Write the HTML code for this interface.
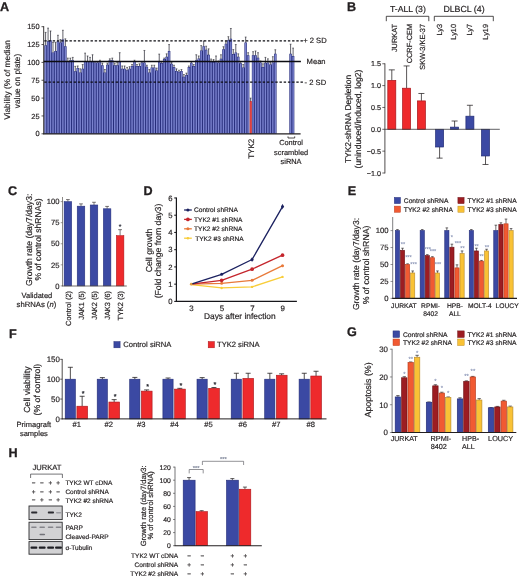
<!DOCTYPE html>
<html lang="en">
<head>
<meta charset="utf-8">
<title>TYK2 dependence in T-ALL - figure</title>
<style>
html,body{margin:0;padding:0;background:#fff;}
body{width:520px;height:577px;overflow:hidden;}
svg{display:block;font-family:"Liberation Sans",Arial,Helvetica,sans-serif;fill:#231f20;}
</style>
</head>
<body>
<svg width="520" height="577" viewBox="0 0 520 577" shape-rendering="auto" text-rendering="geometricPrecision">
<rect x="0" y="0" width="520" height="577" fill="#ffffff"/>
<text x="0" y="10.5" font-size="12.6" font-weight="bold" stroke="#231f20" stroke-width="0.3">A</text>
<line x1="45.6" y1="45.56" x2="45.6" y2="32.41" stroke="#2e2e38" stroke-width="0.75"/>
<line x1="44.7" y1="32.41" x2="46.5" y2="32.41" stroke="#23232b" stroke-width="0.6"/>
<line x1="48.07" y1="41.64" x2="48.07" y2="28.13" stroke="#2e2e38" stroke-width="0.75"/>
<line x1="47.17" y1="28.13" x2="48.97" y2="28.13" stroke="#23232b" stroke-width="0.6"/>
<line x1="50.54" y1="40.57" x2="50.54" y2="30.98" stroke="#2e2e38" stroke-width="0.75"/>
<line x1="49.64" y1="30.98" x2="51.44" y2="30.98" stroke="#23232b" stroke-width="0.6"/>
<line x1="53.01" y1="52.7" x2="53.01" y2="42.41" stroke="#2e2e38" stroke-width="0.75"/>
<line x1="52.11" y1="42.41" x2="53.91" y2="42.41" stroke="#23232b" stroke-width="0.6"/>
<line x1="55.48" y1="51.28" x2="55.48" y2="42.41" stroke="#2e2e38" stroke-width="0.75"/>
<line x1="54.58" y1="42.41" x2="56.38" y2="42.41" stroke="#23232b" stroke-width="0.6"/>
<line x1="57.95" y1="41.64" x2="57.95" y2="35.27" stroke="#2e2e38" stroke-width="0.75"/>
<line x1="57.05" y1="35.27" x2="58.85" y2="35.27" stroke="#23232b" stroke-width="0.6"/>
<line x1="60.42" y1="42.71" x2="60.42" y2="39.55" stroke="#2e2e38" stroke-width="0.75"/>
<line x1="59.52" y1="39.55" x2="61.32" y2="39.55" stroke="#23232b" stroke-width="0.6"/>
<line x1="62.89" y1="39.85" x2="62.89" y2="30.27" stroke="#2e2e38" stroke-width="0.75"/>
<line x1="61.99" y1="30.27" x2="63.79" y2="30.27" stroke="#23232b" stroke-width="0.6"/>
<line x1="65.36" y1="46.56" x2="65.36" y2="38.84" stroke="#2e2e38" stroke-width="0.75"/>
<line x1="64.46" y1="38.84" x2="66.26" y2="38.84" stroke="#23232b" stroke-width="0.6"/>
<line x1="67.83" y1="61.27" x2="67.83" y2="58.12" stroke="#2e2e38" stroke-width="0.75"/>
<line x1="66.93" y1="58.12" x2="68.73" y2="58.12" stroke="#23232b" stroke-width="0.6"/>
<line x1="70.3" y1="60.56" x2="70.3" y2="58.12" stroke="#2e2e38" stroke-width="0.75"/>
<line x1="69.4" y1="58.12" x2="71.2" y2="58.12" stroke="#23232b" stroke-width="0.6"/>
<line x1="72.77" y1="60.56" x2="72.77" y2="57.4" stroke="#2e2e38" stroke-width="0.75"/>
<line x1="71.87" y1="57.4" x2="73.67" y2="57.4" stroke="#23232b" stroke-width="0.6"/>
<line x1="75.24" y1="71.55" x2="75.24" y2="66.33" stroke="#2e2e38" stroke-width="0.75"/>
<line x1="74.34" y1="66.33" x2="76.14" y2="66.33" stroke="#23232b" stroke-width="0.6"/>
<line x1="77.71" y1="68.41" x2="77.71" y2="65.97" stroke="#2e2e38" stroke-width="0.75"/>
<line x1="76.81" y1="65.97" x2="78.61" y2="65.97" stroke="#23232b" stroke-width="0.6"/>
<line x1="80.18" y1="72.7" x2="80.18" y2="68.83" stroke="#2e2e38" stroke-width="0.75"/>
<line x1="79.28" y1="68.83" x2="81.08" y2="68.83" stroke="#23232b" stroke-width="0.6"/>
<line x1="82.65" y1="69.13" x2="82.65" y2="64.54" stroke="#2e2e38" stroke-width="0.75"/>
<line x1="81.75" y1="64.54" x2="83.55" y2="64.54" stroke="#23232b" stroke-width="0.6"/>
<line x1="85.12" y1="61.27" x2="85.12" y2="53.12" stroke="#2e2e38" stroke-width="0.75"/>
<line x1="84.22" y1="53.12" x2="86.02" y2="53.12" stroke="#23232b" stroke-width="0.6"/>
<line x1="87.59" y1="61.27" x2="87.59" y2="55.97" stroke="#2e2e38" stroke-width="0.75"/>
<line x1="86.69" y1="55.97" x2="88.49" y2="55.97" stroke="#23232b" stroke-width="0.6"/>
<line x1="90.06" y1="61.27" x2="90.06" y2="57.4" stroke="#2e2e38" stroke-width="0.75"/>
<line x1="89.16" y1="57.4" x2="90.96" y2="57.4" stroke="#23232b" stroke-width="0.6"/>
<line x1="92.53" y1="61.99" x2="92.53" y2="54.76" stroke="#2e2e38" stroke-width="0.75"/>
<line x1="91.63" y1="54.76" x2="93.43" y2="54.76" stroke="#23232b" stroke-width="0.6"/>
<line x1="95" y1="62.7" x2="95" y2="61.69" stroke="#2e2e38" stroke-width="0.75"/>
<line x1="94.1" y1="61.69" x2="95.9" y2="61.69" stroke="#23232b" stroke-width="0.6"/>
<line x1="97.47" y1="62.7" x2="97.47" y2="61.69" stroke="#2e2e38" stroke-width="0.75"/>
<line x1="96.57" y1="61.69" x2="98.37" y2="61.69" stroke="#23232b" stroke-width="0.6"/>
<line x1="99.94" y1="61.27" x2="99.94" y2="60.26" stroke="#2e2e38" stroke-width="0.75"/>
<line x1="99.04" y1="60.26" x2="100.84" y2="60.26" stroke="#23232b" stroke-width="0.6"/>
<line x1="102.41" y1="65.56" x2="102.41" y2="63.11" stroke="#2e2e38" stroke-width="0.75"/>
<line x1="101.51" y1="63.11" x2="103.31" y2="63.11" stroke="#23232b" stroke-width="0.6"/>
<line x1="104.88" y1="72.7" x2="104.88" y2="69.54" stroke="#2e2e38" stroke-width="0.75"/>
<line x1="103.98" y1="69.54" x2="105.78" y2="69.54" stroke="#23232b" stroke-width="0.6"/>
<line x1="107.35" y1="65.13" x2="107.35" y2="63.11" stroke="#2e2e38" stroke-width="0.75"/>
<line x1="106.45" y1="63.11" x2="108.25" y2="63.11" stroke="#23232b" stroke-width="0.6"/>
<line x1="109.82" y1="60.56" x2="109.82" y2="58.83" stroke="#2e2e38" stroke-width="0.75"/>
<line x1="108.92" y1="58.83" x2="110.72" y2="58.83" stroke="#23232b" stroke-width="0.6"/>
<line x1="112.29" y1="60.56" x2="112.29" y2="58.12" stroke="#2e2e38" stroke-width="0.75"/>
<line x1="111.39" y1="58.12" x2="113.19" y2="58.12" stroke="#23232b" stroke-width="0.6"/>
<line x1="114.76" y1="65.56" x2="114.76" y2="63.11" stroke="#2e2e38" stroke-width="0.75"/>
<line x1="113.86" y1="63.11" x2="115.66" y2="63.11" stroke="#23232b" stroke-width="0.6"/>
<line x1="117.23" y1="65.56" x2="117.23" y2="62.4" stroke="#2e2e38" stroke-width="0.75"/>
<line x1="116.33" y1="62.4" x2="118.13" y2="62.4" stroke="#23232b" stroke-width="0.6"/>
<line x1="119.7" y1="61.99" x2="119.7" y2="52.69" stroke="#2e2e38" stroke-width="0.75"/>
<line x1="118.8" y1="52.69" x2="120.6" y2="52.69" stroke="#23232b" stroke-width="0.6"/>
<line x1="122.17" y1="69.13" x2="122.17" y2="65.97" stroke="#2e2e38" stroke-width="0.75"/>
<line x1="121.27" y1="65.97" x2="123.07" y2="65.97" stroke="#23232b" stroke-width="0.6"/>
<line x1="124.64" y1="69.13" x2="124.64" y2="65.97" stroke="#2e2e38" stroke-width="0.75"/>
<line x1="123.74" y1="65.97" x2="125.54" y2="65.97" stroke="#23232b" stroke-width="0.6"/>
<line x1="127.11" y1="70.55" x2="127.11" y2="67.4" stroke="#2e2e38" stroke-width="0.75"/>
<line x1="126.21" y1="67.4" x2="128.01" y2="67.4" stroke="#23232b" stroke-width="0.6"/>
<line x1="129.58" y1="69.13" x2="129.58" y2="66.68" stroke="#2e2e38" stroke-width="0.75"/>
<line x1="128.68" y1="66.68" x2="130.48" y2="66.68" stroke="#23232b" stroke-width="0.6"/>
<line x1="132.05" y1="66.27" x2="132.05" y2="64.54" stroke="#2e2e38" stroke-width="0.75"/>
<line x1="131.15" y1="64.54" x2="132.95" y2="64.54" stroke="#23232b" stroke-width="0.6"/>
<line x1="134.52" y1="61.27" x2="134.52" y2="60.26" stroke="#2e2e38" stroke-width="0.75"/>
<line x1="133.62" y1="60.26" x2="135.42" y2="60.26" stroke="#23232b" stroke-width="0.6"/>
<line x1="136.99" y1="66.27" x2="136.99" y2="64.54" stroke="#2e2e38" stroke-width="0.75"/>
<line x1="136.09" y1="64.54" x2="137.89" y2="64.54" stroke="#23232b" stroke-width="0.6"/>
<line x1="139.46" y1="66.27" x2="139.46" y2="63.83" stroke="#2e2e38" stroke-width="0.75"/>
<line x1="138.56" y1="63.83" x2="140.36" y2="63.83" stroke="#23232b" stroke-width="0.6"/>
<line x1="141.93" y1="62.7" x2="141.93" y2="61.69" stroke="#2e2e38" stroke-width="0.75"/>
<line x1="141.03" y1="61.69" x2="142.83" y2="61.69" stroke="#23232b" stroke-width="0.6"/>
<line x1="144.4" y1="62.7" x2="144.4" y2="50.48" stroke="#2e2e38" stroke-width="0.75"/>
<line x1="143.5" y1="50.48" x2="145.3" y2="50.48" stroke="#23232b" stroke-width="0.6"/>
<line x1="146.87" y1="66.98" x2="146.87" y2="65.26" stroke="#2e2e38" stroke-width="0.75"/>
<line x1="145.97" y1="65.26" x2="147.77" y2="65.26" stroke="#23232b" stroke-width="0.6"/>
<line x1="149.34" y1="72.7" x2="149.34" y2="69.54" stroke="#2e2e38" stroke-width="0.75"/>
<line x1="148.44" y1="69.54" x2="150.24" y2="69.54" stroke="#23232b" stroke-width="0.6"/>
<line x1="151.81" y1="67.7" x2="151.81" y2="65.26" stroke="#2e2e38" stroke-width="0.75"/>
<line x1="150.91" y1="65.26" x2="152.71" y2="65.26" stroke="#23232b" stroke-width="0.6"/>
<line x1="154.28" y1="67.7" x2="154.28" y2="65.26" stroke="#2e2e38" stroke-width="0.75"/>
<line x1="153.38" y1="65.26" x2="155.18" y2="65.26" stroke="#23232b" stroke-width="0.6"/>
<line x1="156.75" y1="70.91" x2="156.75" y2="68.11" stroke="#2e2e38" stroke-width="0.75"/>
<line x1="155.85" y1="68.11" x2="157.65" y2="68.11" stroke="#23232b" stroke-width="0.6"/>
<line x1="159.22" y1="61.99" x2="159.22" y2="54.12" stroke="#2e2e38" stroke-width="0.75"/>
<line x1="158.32" y1="54.12" x2="160.12" y2="54.12" stroke="#23232b" stroke-width="0.6"/>
<line x1="161.69" y1="63.41" x2="161.69" y2="61.69" stroke="#2e2e38" stroke-width="0.75"/>
<line x1="160.79" y1="61.69" x2="162.59" y2="61.69" stroke="#23232b" stroke-width="0.6"/>
<line x1="164.16" y1="59.34" x2="164.16" y2="58.12" stroke="#2e2e38" stroke-width="0.75"/>
<line x1="163.26" y1="58.12" x2="165.06" y2="58.12" stroke="#23232b" stroke-width="0.6"/>
<line x1="166.63" y1="56.99" x2="166.63" y2="53.83" stroke="#2e2e38" stroke-width="0.75"/>
<line x1="165.73" y1="53.83" x2="167.53" y2="53.83" stroke="#23232b" stroke-width="0.6"/>
<line x1="169.1" y1="51.28" x2="169.1" y2="44.55" stroke="#2e2e38" stroke-width="0.75"/>
<line x1="168.2" y1="44.55" x2="170" y2="44.55" stroke="#23232b" stroke-width="0.6"/>
<line x1="171.57" y1="64.13" x2="171.57" y2="62.4" stroke="#2e2e38" stroke-width="0.75"/>
<line x1="170.67" y1="62.4" x2="172.47" y2="62.4" stroke="#23232b" stroke-width="0.6"/>
<line x1="174.04" y1="67.34" x2="174.04" y2="65.26" stroke="#2e2e38" stroke-width="0.75"/>
<line x1="173.14" y1="65.26" x2="174.94" y2="65.26" stroke="#23232b" stroke-width="0.6"/>
<line x1="176.51" y1="71.27" x2="176.51" y2="68.83" stroke="#2e2e38" stroke-width="0.75"/>
<line x1="175.61" y1="68.83" x2="177.41" y2="68.83" stroke="#23232b" stroke-width="0.6"/>
<line x1="178.98" y1="72.12" x2="178.98" y2="70.25" stroke="#2e2e38" stroke-width="0.75"/>
<line x1="178.08" y1="70.25" x2="179.88" y2="70.25" stroke="#23232b" stroke-width="0.6"/>
<line x1="181.45" y1="71.27" x2="181.45" y2="69.54" stroke="#2e2e38" stroke-width="0.75"/>
<line x1="180.55" y1="69.54" x2="182.35" y2="69.54" stroke="#23232b" stroke-width="0.6"/>
<line x1="183.92" y1="76.98" x2="183.92" y2="74.54" stroke="#2e2e38" stroke-width="0.75"/>
<line x1="183.02" y1="74.54" x2="184.82" y2="74.54" stroke="#23232b" stroke-width="0.6"/>
<line x1="186.39" y1="75.2" x2="186.39" y2="73.11" stroke="#2e2e38" stroke-width="0.75"/>
<line x1="185.49" y1="73.11" x2="187.29" y2="73.11" stroke="#23232b" stroke-width="0.6"/>
<line x1="188.86" y1="67.34" x2="188.86" y2="65.97" stroke="#2e2e38" stroke-width="0.75"/>
<line x1="187.96" y1="65.97" x2="189.76" y2="65.97" stroke="#23232b" stroke-width="0.6"/>
<line x1="191.33" y1="63.06" x2="191.33" y2="61.69" stroke="#2e2e38" stroke-width="0.75"/>
<line x1="190.43" y1="61.69" x2="192.23" y2="61.69" stroke="#23232b" stroke-width="0.6"/>
<line x1="193.8" y1="66.27" x2="193.8" y2="64.54" stroke="#2e2e38" stroke-width="0.75"/>
<line x1="192.9" y1="64.54" x2="194.7" y2="64.54" stroke="#23232b" stroke-width="0.6"/>
<line x1="196.27" y1="60.56" x2="196.27" y2="54.76" stroke="#2e2e38" stroke-width="0.75"/>
<line x1="195.37" y1="54.76" x2="197.17" y2="54.76" stroke="#23232b" stroke-width="0.6"/>
<line x1="198.74" y1="58.7" x2="198.74" y2="55.97" stroke="#2e2e38" stroke-width="0.75"/>
<line x1="197.84" y1="55.97" x2="199.64" y2="55.97" stroke="#23232b" stroke-width="0.6"/>
<line x1="201.21" y1="50.78" x2="201.21" y2="45.62" stroke="#2e2e38" stroke-width="0.75"/>
<line x1="200.31" y1="45.62" x2="202.11" y2="45.62" stroke="#23232b" stroke-width="0.6"/>
<line x1="203.68" y1="46.49" x2="203.68" y2="40.98" stroke="#2e2e38" stroke-width="0.75"/>
<line x1="202.78" y1="40.98" x2="204.58" y2="40.98" stroke="#23232b" stroke-width="0.6"/>
<line x1="206.15" y1="50.13" x2="206.15" y2="46.19" stroke="#2e2e38" stroke-width="0.75"/>
<line x1="205.25" y1="46.19" x2="207.05" y2="46.19" stroke="#23232b" stroke-width="0.6"/>
<line x1="208.62" y1="55.06" x2="208.62" y2="48.83" stroke="#2e2e38" stroke-width="0.75"/>
<line x1="207.72" y1="48.83" x2="209.52" y2="48.83" stroke="#23232b" stroke-width="0.6"/>
<line x1="211.09" y1="61.99" x2="211.09" y2="59.04" stroke="#2e2e38" stroke-width="0.75"/>
<line x1="210.19" y1="59.04" x2="211.99" y2="59.04" stroke="#23232b" stroke-width="0.6"/>
<line x1="213.56" y1="62.34" x2="213.56" y2="59.54" stroke="#2e2e38" stroke-width="0.75"/>
<line x1="212.66" y1="59.54" x2="214.46" y2="59.54" stroke="#23232b" stroke-width="0.6"/>
<line x1="216.03" y1="61.27" x2="216.03" y2="55.97" stroke="#2e2e38" stroke-width="0.75"/>
<line x1="215.13" y1="55.97" x2="216.93" y2="55.97" stroke="#23232b" stroke-width="0.6"/>
<line x1="218.5" y1="62.7" x2="218.5" y2="60.97" stroke="#2e2e38" stroke-width="0.75"/>
<line x1="217.6" y1="60.97" x2="219.4" y2="60.97" stroke="#23232b" stroke-width="0.6"/>
<line x1="220.97" y1="59.13" x2="220.97" y2="54.76" stroke="#2e2e38" stroke-width="0.75"/>
<line x1="220.07" y1="54.76" x2="221.87" y2="54.76" stroke="#23232b" stroke-width="0.6"/>
<line x1="223.44" y1="49.56" x2="223.44" y2="46.69" stroke="#2e2e38" stroke-width="0.75"/>
<line x1="222.54" y1="46.69" x2="224.34" y2="46.69" stroke="#23232b" stroke-width="0.6"/>
<line x1="225.91" y1="44.14" x2="225.91" y2="41.69" stroke="#2e2e38" stroke-width="0.75"/>
<line x1="225.01" y1="41.69" x2="226.81" y2="41.69" stroke="#23232b" stroke-width="0.6"/>
<line x1="228.38" y1="40.57" x2="228.38" y2="36.7" stroke="#2e2e38" stroke-width="0.75"/>
<line x1="227.48" y1="36.7" x2="229.28" y2="36.7" stroke="#23232b" stroke-width="0.6"/>
<line x1="230.85" y1="39.14" x2="230.85" y2="28.49" stroke="#2e2e38" stroke-width="0.75"/>
<line x1="229.95" y1="28.49" x2="231.75" y2="28.49" stroke="#23232b" stroke-width="0.6"/>
<line x1="233.32" y1="54.42" x2="233.32" y2="49.55" stroke="#2e2e38" stroke-width="0.75"/>
<line x1="232.42" y1="49.55" x2="234.22" y2="49.55" stroke="#23232b" stroke-width="0.6"/>
<line x1="235.79" y1="52.7" x2="235.79" y2="44.55" stroke="#2e2e38" stroke-width="0.75"/>
<line x1="234.89" y1="44.55" x2="236.69" y2="44.55" stroke="#23232b" stroke-width="0.6"/>
<line x1="238.26" y1="56.99" x2="238.26" y2="53.83" stroke="#2e2e38" stroke-width="0.75"/>
<line x1="237.36" y1="53.83" x2="239.16" y2="53.83" stroke="#23232b" stroke-width="0.6"/>
<line x1="240.73" y1="63.63" x2="240.73" y2="61.69" stroke="#2e2e38" stroke-width="0.75"/>
<line x1="239.83" y1="61.69" x2="241.63" y2="61.69" stroke="#23232b" stroke-width="0.6"/>
<line x1="243.2" y1="67.84" x2="243.2" y2="64.54" stroke="#2e2e38" stroke-width="0.75"/>
<line x1="242.3" y1="64.54" x2="244.1" y2="64.54" stroke="#23232b" stroke-width="0.6"/>
<line x1="245.67" y1="42.85" x2="245.67" y2="37.05" stroke="#2e2e38" stroke-width="0.75"/>
<line x1="244.77" y1="37.05" x2="246.57" y2="37.05" stroke="#23232b" stroke-width="0.6"/>
<line x1="248.14" y1="55.63" x2="248.14" y2="52.69" stroke="#2e2e38" stroke-width="0.75"/>
<line x1="247.24" y1="52.69" x2="249.04" y2="52.69" stroke="#23232b" stroke-width="0.6"/>
<line x1="250.61" y1="101.61" x2="250.61" y2="98.1" stroke="#2e2e38" stroke-width="0.75"/>
<line x1="249.71" y1="98.1" x2="251.51" y2="98.1" stroke="#23232b" stroke-width="0.6"/>
<line x1="253.08" y1="55.56" x2="253.08" y2="51.69" stroke="#2e2e38" stroke-width="0.75"/>
<line x1="252.18" y1="51.69" x2="253.98" y2="51.69" stroke="#23232b" stroke-width="0.6"/>
<line x1="255.55" y1="55.56" x2="255.55" y2="50.98" stroke="#2e2e38" stroke-width="0.75"/>
<line x1="254.65" y1="50.98" x2="256.45" y2="50.98" stroke="#23232b" stroke-width="0.6"/>
<line x1="258.02" y1="58.13" x2="258.02" y2="52.69" stroke="#2e2e38" stroke-width="0.75"/>
<line x1="257.12" y1="52.69" x2="258.92" y2="52.69" stroke="#23232b" stroke-width="0.6"/>
<line x1="260.49" y1="62.7" x2="260.49" y2="60.97" stroke="#2e2e38" stroke-width="0.75"/>
<line x1="259.59" y1="60.97" x2="261.39" y2="60.97" stroke="#23232b" stroke-width="0.6"/>
<line x1="262.96" y1="67.27" x2="262.96" y2="63.83" stroke="#2e2e38" stroke-width="0.75"/>
<line x1="262.06" y1="63.83" x2="263.86" y2="63.83" stroke="#23232b" stroke-width="0.6"/>
<line x1="265.43" y1="63.06" x2="265.43" y2="57.4" stroke="#2e2e38" stroke-width="0.75"/>
<line x1="264.53" y1="57.4" x2="266.33" y2="57.4" stroke="#23232b" stroke-width="0.6"/>
<line x1="267.9" y1="62.7" x2="267.9" y2="58.83" stroke="#2e2e38" stroke-width="0.75"/>
<line x1="267" y1="58.83" x2="268.8" y2="58.83" stroke="#23232b" stroke-width="0.6"/>
<line x1="270.37" y1="64.84" x2="270.37" y2="62.4" stroke="#2e2e38" stroke-width="0.75"/>
<line x1="269.47" y1="62.4" x2="271.27" y2="62.4" stroke="#23232b" stroke-width="0.6"/>
<line x1="272.84" y1="62.7" x2="272.84" y2="56.69" stroke="#2e2e38" stroke-width="0.75"/>
<line x1="271.94" y1="56.69" x2="273.74" y2="56.69" stroke="#23232b" stroke-width="0.6"/>
<line x1="275.31" y1="54.13" x2="275.31" y2="49.76" stroke="#2e2e38" stroke-width="0.75"/>
<line x1="274.41" y1="49.76" x2="276.21" y2="49.76" stroke="#23232b" stroke-width="0.6"/>
<line x1="290.6" y1="54.13" x2="290.6" y2="44.19" stroke="#2e2e38" stroke-width="0.75"/>
<line x1="289.7" y1="44.19" x2="291.5" y2="44.19" stroke="#23232b" stroke-width="0.6"/>
<line x1="293.1" y1="56.27" x2="293.1" y2="48.12" stroke="#2e2e38" stroke-width="0.75"/>
<line x1="292.2" y1="48.12" x2="294" y2="48.12" stroke="#23232b" stroke-width="0.6"/>
<path d="M44.37 133.8 V45.26 H46.84 V41.34 H49.3 V40.27 H51.77 V52.4 H54.25 V50.98 H56.72 V41.34 H59.19 V42.41 H61.66 V39.55 H64.12 V46.26 H66.59 V60.97 H69.06 V60.26 H71.54 V60.26 H74.01 V71.25 H76.48 V68.11 H78.95 V72.4 H81.42 V68.83 H83.89 V60.97 H86.36 V60.97 H88.83 V60.97 H91.3 V61.69 H93.77 V62.4 H96.23 V62.4 H98.7 V60.97 H101.17 V65.26 H103.64 V72.4 H106.11 V64.83 H108.59 V60.26 H111.05 V60.26 H113.53 V65.26 H116 V65.26 H118.47 V61.69 H120.94 V68.83 H123.41 V68.83 H125.88 V70.25 H128.35 V68.83 H130.82 V65.97 H133.29 V60.97 H135.76 V65.97 H138.23 V65.97 H140.7 V62.4 H143.17 V62.4 H145.64 V66.68 H148.11 V72.4 H150.58 V67.4 H153.05 V67.4 H155.52 V70.61 H157.99 V61.69 H160.46 V63.11 H162.93 V59.04 H165.4 V56.69 H167.87 V50.98 H170.34 V63.83 H172.81 V67.04 H175.28 V70.97 H177.75 V71.82 H180.22 V70.97 H182.69 V76.68 H185.16 V74.9 H187.63 V67.04 H190.1 V62.76 H192.57 V65.97 H195.04 V60.26 H197.51 V58.4 H199.98 V50.48 H202.45 V46.19 H204.92 V49.83 H207.39 V54.76 H209.86 V61.69 H212.33 V62.04 H214.8 V60.97 H217.27 V62.4 H219.74 V58.83 H222.21 V49.26 H224.68 V43.84 H227.15 V40.27 H229.62 V38.84 H232.09 V54.12 H234.56 V52.4 H237.03 V56.69 H239.5 V63.33 H241.97 V67.54 H244.44 V42.55 H246.91 V55.33 H249.38 V133.8 Z" fill="#262c7a"/>
<path d="M251.84 133.8 V55.26 H254.32 V55.26 H256.79 V57.83 H259.26 V62.4 H261.73 V66.97 H264.2 V62.76 H266.67 V62.4 H269.14 V64.54 H271.61 V62.4 H274.08 V53.83 H276.55 V133.8 Z" fill="#262c7a"/>
<path d="M289.37 133.8 V53.83 H291.84 V55.97 H294.34 V133.8 Z" fill="#262c7a"/>
<rect x="250.01" y="101.31" width="1.6" height="32.49" fill="#ee4a4a" stroke="#c02a2e" stroke-width="0.6"/>
<path d="M44.87 45.76 h1.47 V133.8 h-1.47 Z M47.34 41.84 h1.47 V133.8 h-1.47 Z M49.8 40.77 h1.47 V133.8 h-1.47 Z M52.28 52.9 h1.47 V133.8 h-1.47 Z M54.75 51.48 h1.47 V133.8 h-1.47 Z M57.22 41.84 h1.47 V133.8 h-1.47 Z M59.69 42.91 h1.47 V133.8 h-1.47 Z M62.16 40.05 h1.47 V133.8 h-1.47 Z M64.62 46.76 h1.47 V133.8 h-1.47 Z M67.09 61.47 h1.47 V133.8 h-1.47 Z M69.57 60.76 h1.47 V133.8 h-1.47 Z M72.04 60.76 h1.47 V133.8 h-1.47 Z M74.51 71.75 h1.47 V133.8 h-1.47 Z M76.98 68.61 h1.47 V133.8 h-1.47 Z M79.45 72.9 h1.47 V133.8 h-1.47 Z M81.92 69.33 h1.47 V133.8 h-1.47 Z M84.39 61.47 h1.47 V133.8 h-1.47 Z M86.86 61.47 h1.47 V133.8 h-1.47 Z M89.33 61.47 h1.47 V133.8 h-1.47 Z M91.8 62.19 h1.47 V133.8 h-1.47 Z M94.27 62.9 h1.47 V133.8 h-1.47 Z M96.73 62.9 h1.47 V133.8 h-1.47 Z M99.2 61.47 h1.47 V133.8 h-1.47 Z M101.67 65.76 h1.47 V133.8 h-1.47 Z M104.14 72.9 h1.47 V133.8 h-1.47 Z M106.62 65.33 h1.47 V133.8 h-1.47 Z M109.08 60.76 h1.47 V133.8 h-1.47 Z M111.56 60.76 h1.47 V133.8 h-1.47 Z M114.03 65.76 h1.47 V133.8 h-1.47 Z M116.5 65.76 h1.47 V133.8 h-1.47 Z M118.97 62.19 h1.47 V133.8 h-1.47 Z M121.44 69.33 h1.47 V133.8 h-1.47 Z M123.91 69.33 h1.47 V133.8 h-1.47 Z M126.38 70.75 h1.47 V133.8 h-1.47 Z M128.84 69.33 h1.47 V133.8 h-1.47 Z M131.31 66.47 h1.47 V133.8 h-1.47 Z M133.78 61.47 h1.47 V133.8 h-1.47 Z M136.25 66.47 h1.47 V133.8 h-1.47 Z M138.72 66.47 h1.47 V133.8 h-1.47 Z M141.19 62.9 h1.47 V133.8 h-1.47 Z M143.66 62.9 h1.47 V133.8 h-1.47 Z M146.13 67.18 h1.47 V133.8 h-1.47 Z M148.6 72.9 h1.47 V133.8 h-1.47 Z M151.07 67.9 h1.47 V133.8 h-1.47 Z M153.54 67.9 h1.47 V133.8 h-1.47 Z M156.01 71.11 h1.47 V133.8 h-1.47 Z M158.48 62.19 h1.47 V133.8 h-1.47 Z M160.95 63.61 h1.47 V133.8 h-1.47 Z M163.42 59.54 h1.47 V133.8 h-1.47 Z M165.9 57.19 h1.47 V133.8 h-1.47 Z M168.37 51.48 h1.47 V133.8 h-1.47 Z M170.84 64.33 h1.47 V133.8 h-1.47 Z M173.3 67.54 h1.47 V133.8 h-1.47 Z M175.77 71.47 h1.47 V133.8 h-1.47 Z M178.25 72.32 h1.47 V133.8 h-1.47 Z M180.72 71.47 h1.47 V133.8 h-1.47 Z M183.19 77.18 h1.47 V133.8 h-1.47 Z M185.66 75.4 h1.47 V133.8 h-1.47 Z M188.12 67.54 h1.47 V133.8 h-1.47 Z M190.59 63.26 h1.47 V133.8 h-1.47 Z M193.06 66.47 h1.47 V133.8 h-1.47 Z M195.53 60.76 h1.47 V133.8 h-1.47 Z M198 58.9 h1.47 V133.8 h-1.47 Z M200.47 50.98 h1.47 V133.8 h-1.47 Z M202.94 46.69 h1.47 V133.8 h-1.47 Z M205.41 50.33 h1.47 V133.8 h-1.47 Z M207.88 55.26 h1.47 V133.8 h-1.47 Z M210.35 62.19 h1.47 V133.8 h-1.47 Z M212.82 62.54 h1.47 V133.8 h-1.47 Z M215.29 61.47 h1.47 V133.8 h-1.47 Z M217.76 62.9 h1.47 V133.8 h-1.47 Z M220.23 59.33 h1.47 V133.8 h-1.47 Z M222.7 49.76 h1.47 V133.8 h-1.47 Z M225.17 44.34 h1.47 V133.8 h-1.47 Z M227.64 40.77 h1.47 V133.8 h-1.47 Z M230.12 39.34 h1.47 V133.8 h-1.47 Z M232.59 54.62 h1.47 V133.8 h-1.47 Z M235.06 52.9 h1.47 V133.8 h-1.47 Z M237.53 57.19 h1.47 V133.8 h-1.47 Z M240 63.83 h1.47 V133.8 h-1.47 Z M242.47 68.04 h1.47 V133.8 h-1.47 Z M244.94 43.05 h1.47 V133.8 h-1.47 Z M247.41 55.83 h1.47 V133.8 h-1.47 Z M252.34 55.76 h1.47 V133.8 h-1.47 Z M254.81 55.76 h1.47 V133.8 h-1.47 Z M257.29 58.33 h1.47 V133.8 h-1.47 Z M259.75 62.9 h1.47 V133.8 h-1.47 Z M262.23 67.47 h1.47 V133.8 h-1.47 Z M264.69 63.26 h1.47 V133.8 h-1.47 Z M267.17 62.9 h1.47 V133.8 h-1.47 Z M269.63 65.04 h1.47 V133.8 h-1.47 Z M272.11 62.9 h1.47 V133.8 h-1.47 Z M274.57 54.33 h1.47 V133.8 h-1.47 Z M289.87 54.33 h1.47 V133.8 h-1.47 Z M292.37 56.47 h1.47 V133.8 h-1.47 Z" fill="#7a82ce"/>
<line x1="43.7" y1="26.2" x2="43.7" y2="134.25" stroke="#231f20" stroke-width="0.9"/>
<line x1="41.5" y1="133.8" x2="43.7" y2="133.8" stroke="#231f20" stroke-width="0.77"/>
<text x="39.5" y="136.46" font-size="7.4" text-anchor="end" stroke="#231f20" stroke-width="0.18">0</text>
<line x1="41.5" y1="115.95" x2="43.7" y2="115.95" stroke="#231f20" stroke-width="0.77"/>
<text x="39.5" y="118.61" font-size="7.4" text-anchor="end" stroke="#231f20" stroke-width="0.18">25</text>
<line x1="41.5" y1="98.1" x2="43.7" y2="98.1" stroke="#231f20" stroke-width="0.77"/>
<text x="39.5" y="100.76" font-size="7.4" text-anchor="end" stroke="#231f20" stroke-width="0.18">50</text>
<line x1="41.5" y1="80.25" x2="43.7" y2="80.25" stroke="#231f20" stroke-width="0.77"/>
<text x="39.5" y="82.91" font-size="7.4" text-anchor="end" stroke="#231f20" stroke-width="0.18">75</text>
<line x1="41.5" y1="62.4" x2="43.7" y2="62.4" stroke="#231f20" stroke-width="0.77"/>
<text x="39.5" y="65.06" font-size="7.4" text-anchor="end" stroke="#231f20" stroke-width="0.18">100</text>
<line x1="41.5" y1="44.55" x2="43.7" y2="44.55" stroke="#231f20" stroke-width="0.77"/>
<text x="39.5" y="47.21" font-size="7.4" text-anchor="end" stroke="#231f20" stroke-width="0.18">125</text>
<line x1="41.5" y1="26.7" x2="43.7" y2="26.7" stroke="#231f20" stroke-width="0.77"/>
<text x="39.5" y="29.36" font-size="7.4" text-anchor="end" stroke="#231f20" stroke-width="0.18">150</text>
<line x1="43.25" y1="133.8" x2="300.6" y2="133.8" stroke="#231f20" stroke-width="1.2"/>
<line x1="43.7" y1="61.6" x2="300.9" y2="61.6" stroke="#0d0d12" stroke-width="1.5"/>
<line x1="44.3" y1="40.9" x2="304.6" y2="40.9" stroke="#0d0d12" stroke-width="1.25" stroke-dasharray="2.4 1.8"/>
<line x1="44.3" y1="82.2" x2="304.6" y2="82.2" stroke="#0d0d12" stroke-width="1.25" stroke-dasharray="2.4 1.8"/>
<text x="303.2" y="43.3" font-size="7.6" stroke="#231f20" stroke-width="0.18">+ 2 SD</text>
<text x="306.6" y="64" font-size="7.6" stroke="#231f20" stroke-width="0.18">Mean</text>
<text x="304.6" y="84.9" font-size="7.6" stroke="#231f20" stroke-width="0.18">- 2 SD</text>
<text x="9.9" y="80" font-size="8.3" text-anchor="middle" transform="rotate(-90 9.9 80)" stroke="#231f20" stroke-width="0.18">Viability (% of median</text>
<text x="20.4" y="81" font-size="8.3" text-anchor="middle" transform="rotate(-90 20.4 81)" stroke="#231f20" stroke-width="0.18">value on plate)</text>
<text x="253.9" y="138.8" font-size="8" text-anchor="end" transform="rotate(-90 253.9 138.8)" stroke="#231f20" stroke-width="0.18">TYK2</text>
<path d="M288 136.4 V138 H294.7 V136.4" fill="none" stroke="#231f20" stroke-width="0.8"/>
<text x="291.1" y="145.4" font-size="7.4" text-anchor="middle" stroke="#231f20" stroke-width="0.18">Control</text>
<text x="291.1" y="154.8" font-size="7.4" text-anchor="middle" stroke="#231f20" stroke-width="0.18">scrambled</text>
<text x="291.1" y="164.1" font-size="7.4" text-anchor="middle" stroke="#231f20" stroke-width="0.18">siRNA</text>
<text x="347" y="11.1" font-size="12.6" font-weight="bold" stroke="#231f20" stroke-width="0.3">B</text>
<text x="407.9" y="12.4" font-size="8.7" text-anchor="middle" stroke="#231f20" stroke-width="0.18">T-ALL (3)</text>
<text x="464" y="12.4" font-size="8.8" text-anchor="middle" stroke="#231f20" stroke-width="0.18">DLBCL (4)</text>
<path d="M386.3 21.2 V16.3 H428.8 V21.2" fill="none" stroke="#231f20" stroke-width="0.8"/>
<path d="M434.3 21.2 V16.3 H493.3 V21.2" fill="none" stroke="#231f20" stroke-width="0.8"/>
<line x1="384.9" y1="63.35" x2="384.9" y2="173.4" stroke="#231f20" stroke-width="0.8"/>
<line x1="382.3" y1="63.75" x2="384.9" y2="63.75" stroke="#231f20" stroke-width="0.68"/>
<text x="381" y="66.34" font-size="7.2" text-anchor="end" stroke="#231f20" stroke-width="0.18">1.5</text>
<line x1="382.3" y1="85.6" x2="384.9" y2="85.6" stroke="#231f20" stroke-width="0.68"/>
<text x="381" y="88.19" font-size="7.2" text-anchor="end" stroke="#231f20" stroke-width="0.18">1.0</text>
<line x1="382.3" y1="107.45" x2="384.9" y2="107.45" stroke="#231f20" stroke-width="0.68"/>
<text x="381" y="110.04" font-size="7.2" text-anchor="end" stroke="#231f20" stroke-width="0.18">0.5</text>
<line x1="382.3" y1="129.3" x2="384.9" y2="129.3" stroke="#231f20" stroke-width="0.68"/>
<text x="381" y="131.89" font-size="7.2" text-anchor="end" stroke="#231f20" stroke-width="0.18">0.0</text>
<line x1="382.3" y1="151.15" x2="384.9" y2="151.15" stroke="#231f20" stroke-width="0.68"/>
<text x="381" y="153.74" font-size="7.2" text-anchor="end" stroke="#231f20" stroke-width="0.18">−0.5</text>
<line x1="382.3" y1="173" x2="384.9" y2="173" stroke="#231f20" stroke-width="0.68"/>
<text x="381" y="175.59" font-size="7.2" text-anchor="end" stroke="#231f20" stroke-width="0.18">−1.0</text>
<line x1="391.8" y1="80.36" x2="391.8" y2="69.87" stroke="#231f20" stroke-width="0.75"/>
<line x1="388.8" y1="69.87" x2="394.8" y2="69.87" stroke="#231f20" stroke-width="0.75"/>
<rect x="387.8" y="80.36" width="8" height="48.94" fill="#ee2a2c" stroke="#a8141a" stroke-width="0.7"/>
<text x="396.8" y="23.9" font-size="7.4" text-anchor="end" transform="rotate(-90 396.8 23.9)" stroke="#231f20" stroke-width="0.18">JURKAT</text>
<line x1="406.6" y1="88.22" x2="406.6" y2="65.94" stroke="#231f20" stroke-width="0.75"/>
<line x1="403.6" y1="65.94" x2="409.6" y2="65.94" stroke="#231f20" stroke-width="0.75"/>
<rect x="402.6" y="88.22" width="8" height="41.08" fill="#ee2a2c" stroke="#a8141a" stroke-width="0.7"/>
<text x="411.6" y="23.9" font-size="7.4" text-anchor="end" transform="rotate(-90 411.6 23.9)" stroke="#231f20" stroke-width="0.18">CCRF-CEM</text>
<line x1="421.4" y1="100.9" x2="421.4" y2="93.47" stroke="#231f20" stroke-width="0.75"/>
<line x1="418.4" y1="93.47" x2="424.4" y2="93.47" stroke="#231f20" stroke-width="0.75"/>
<rect x="417.4" y="100.9" width="8" height="28.41" fill="#ee2a2c" stroke="#a8141a" stroke-width="0.7"/>
<text x="425.2" y="23.9" font-size="7.4" text-anchor="end" transform="rotate(-90 425.2 23.9)" stroke="#231f20" stroke-width="0.18">SKW-3/KE-37</text>
<line x1="439.6" y1="147" x2="439.6" y2="158.14" stroke="#231f20" stroke-width="0.75"/>
<line x1="436.6" y1="158.14" x2="442.6" y2="158.14" stroke="#231f20" stroke-width="0.75"/>
<rect x="435.6" y="129.3" width="8" height="17.7" fill="#3b49a3" stroke="#222b76" stroke-width="0.7"/>
<text x="442" y="23.9" font-size="7.4" text-anchor="end" transform="rotate(-90 442 23.9)" stroke="#231f20" stroke-width="0.18">Ly3</text>
<line x1="454.6" y1="127.12" x2="454.6" y2="121" stroke="#231f20" stroke-width="0.75"/>
<line x1="451.6" y1="121" x2="457.6" y2="121" stroke="#231f20" stroke-width="0.75"/>
<rect x="450.6" y="127.12" width="8" height="2.19" fill="#3b49a3" stroke="#222b76" stroke-width="0.7"/>
<text x="456.5" y="23.9" font-size="7.4" text-anchor="end" transform="rotate(-90 456.5 23.9)" stroke="#231f20" stroke-width="0.18">Ly10</text>
<line x1="469.9" y1="116.19" x2="469.9" y2="105.27" stroke="#231f20" stroke-width="0.75"/>
<line x1="466.9" y1="105.27" x2="472.9" y2="105.27" stroke="#231f20" stroke-width="0.75"/>
<rect x="465.9" y="116.19" width="8" height="13.11" fill="#3b49a3" stroke="#222b76" stroke-width="0.7"/>
<text x="472.5" y="23.9" font-size="7.4" text-anchor="end" transform="rotate(-90 472.5 23.9)" stroke="#231f20" stroke-width="0.18">Ly7</text>
<line x1="485.5" y1="155.96" x2="485.5" y2="164.48" stroke="#231f20" stroke-width="0.75"/>
<line x1="482.5" y1="164.48" x2="488.5" y2="164.48" stroke="#231f20" stroke-width="0.75"/>
<rect x="481.5" y="129.3" width="8" height="26.66" fill="#3b49a3" stroke="#222b76" stroke-width="0.7"/>
<text x="488.1" y="23.9" font-size="7.4" text-anchor="end" transform="rotate(-90 488.1 23.9)" stroke="#231f20" stroke-width="0.18">Ly19</text>
<line x1="384.9" y1="129.3" x2="499.8" y2="129.3" stroke="#3a3a3e" stroke-width="0.8"/>
<text x="351.4" y="119" font-size="8.45" text-anchor="middle" transform="rotate(-90 351.4 119)" stroke="#231f20" stroke-width="0.18">TYK2-shRNA Depletion</text>
<text x="361.1" y="119" font-size="8.6" text-anchor="middle" transform="rotate(-90 361.1 119)" stroke="#231f20" stroke-width="0.18">(uninduced/induced, log2)</text>
<text x="8" y="195.4" font-size="12.6" font-weight="bold" stroke="#231f20" stroke-width="0.3">C</text>
<line x1="67.9" y1="201.6" x2="67.9" y2="199.58" stroke="#231f20" stroke-width="0.6"/>
<line x1="66" y1="199.58" x2="69.8" y2="199.58" stroke="#231f20" stroke-width="0.6"/>
<rect x="64.1" y="201.6" width="7.6" height="84.3" fill="#3b49a3" stroke="#222b76" stroke-width="0.5"/>
<text x="70.5" y="291" font-size="7.4" text-anchor="end" transform="rotate(-90 70.5 291)" stroke="#231f20" stroke-width="0.18">Control (2)</text>
<line x1="81" y1="206.15" x2="81" y2="203.88" stroke="#231f20" stroke-width="0.6"/>
<line x1="79.1" y1="203.88" x2="82.9" y2="203.88" stroke="#231f20" stroke-width="0.6"/>
<rect x="77.2" y="206.15" width="7.6" height="79.75" fill="#3b49a3" stroke="#222b76" stroke-width="0.5"/>
<text x="83.6" y="291" font-size="7.4" text-anchor="end" transform="rotate(-90 83.6 291)" stroke="#231f20" stroke-width="0.18">JAK1 (5)</text>
<line x1="94" y1="204.97" x2="94" y2="202.27" stroke="#231f20" stroke-width="0.6"/>
<line x1="92.1" y1="202.27" x2="95.9" y2="202.27" stroke="#231f20" stroke-width="0.6"/>
<rect x="90.2" y="204.97" width="7.6" height="80.93" fill="#3b49a3" stroke="#222b76" stroke-width="0.5"/>
<text x="96.6" y="291" font-size="7.4" text-anchor="end" transform="rotate(-90 96.6 291)" stroke="#231f20" stroke-width="0.18">JAK2 (5)</text>
<line x1="107.1" y1="208.77" x2="107.1" y2="206.41" stroke="#231f20" stroke-width="0.6"/>
<line x1="105.2" y1="206.41" x2="109" y2="206.41" stroke="#231f20" stroke-width="0.6"/>
<rect x="103.3" y="208.77" width="7.6" height="77.13" fill="#3b49a3" stroke="#222b76" stroke-width="0.5"/>
<text x="109.7" y="291" font-size="7.4" text-anchor="end" transform="rotate(-90 109.7 291)" stroke="#231f20" stroke-width="0.18">JAK3 (6)</text>
<line x1="120.1" y1="235.57" x2="120.1" y2="229.67" stroke="#231f20" stroke-width="0.6"/>
<line x1="118.2" y1="229.67" x2="122" y2="229.67" stroke="#231f20" stroke-width="0.6"/>
<rect x="116.3" y="235.57" width="7.6" height="50.33" fill="#ee2a2c" stroke="#a8141a" stroke-width="0.5"/>
<text x="122.7" y="291" font-size="7.4" text-anchor="end" transform="rotate(-90 122.7 291)" stroke="#231f20" stroke-width="0.18">TYK2 (3)</text>
<text x="120.2" y="228.8" font-size="6.8" text-anchor="middle" fill="#2a2d3a" stroke="#2a2d3a" stroke-width="0.18">*</text>
<line x1="62.5" y1="197" x2="62.5" y2="286.22" stroke="#4e4842" stroke-width="0.65"/>
<line x1="60.7" y1="285.9" x2="62.5" y2="285.9" stroke="#4e4842" stroke-width="0.55"/>
<text x="59.4" y="288.64" font-size="7.6" text-anchor="end" stroke="#231f20" stroke-width="0.18">0</text>
<line x1="60.7" y1="264.82" x2="62.5" y2="264.82" stroke="#4e4842" stroke-width="0.55"/>
<text x="59.4" y="267.56" font-size="7.6" text-anchor="end" stroke="#231f20" stroke-width="0.18">25</text>
<line x1="60.7" y1="243.75" x2="62.5" y2="243.75" stroke="#4e4842" stroke-width="0.55"/>
<text x="59.4" y="246.49" font-size="7.6" text-anchor="end" stroke="#231f20" stroke-width="0.18">50</text>
<line x1="60.7" y1="222.67" x2="62.5" y2="222.67" stroke="#4e4842" stroke-width="0.55"/>
<text x="59.4" y="225.41" font-size="7.6" text-anchor="end" stroke="#231f20" stroke-width="0.18">75</text>
<line x1="60.7" y1="201.6" x2="62.5" y2="201.6" stroke="#4e4842" stroke-width="0.55"/>
<text x="59.4" y="204.34" font-size="7.6" text-anchor="end" stroke="#231f20" stroke-width="0.18">100</text>
<line x1="62.1" y1="286" x2="126.8" y2="286" stroke="#4e4842" stroke-width="0.8"/>
<text x="31.8" y="239.8" font-size="8.6" text-anchor="middle" transform="rotate(-90 31.8 239.8)" stroke="#231f20" stroke-width="0.18">Growth rate (day7/day3:</text>
<text x="41.5" y="239.4" font-size="8.6" text-anchor="middle" transform="rotate(-90 41.5 239.4)" stroke="#231f20" stroke-width="0.18">% of control shRNAs)</text>
<text x="36.9" y="298" font-size="7.5" text-anchor="middle" stroke="#231f20" stroke-width="0.18">Validated</text>
<text x="36.4" y="307.0" font-size="7.7" text-anchor="middle" stroke="#231f20" stroke-width="0.18">shRNAs (<tspan font-style="italic">n</tspan>)</text>
<text x="143.4" y="195.2" font-size="12.6" font-weight="bold" stroke="#231f20" stroke-width="0.3">D</text>
<line x1="176.4" y1="197.56" x2="176.4" y2="302" stroke="#17171b" stroke-width="1.2"/>
<line x1="174.2" y1="301.4" x2="176.4" y2="301.4" stroke="#17171b" stroke-width="1.02"/>
<text x="172.5" y="304.17" font-size="7.7" text-anchor="end" stroke="#231f20" stroke-width="0.18">0</text>
<line x1="174.2" y1="284.16" x2="176.4" y2="284.16" stroke="#17171b" stroke-width="1.02"/>
<text x="172.5" y="286.93" font-size="7.7" text-anchor="end" stroke="#231f20" stroke-width="0.18">1</text>
<line x1="174.2" y1="266.92" x2="176.4" y2="266.92" stroke="#17171b" stroke-width="1.02"/>
<text x="172.5" y="269.69" font-size="7.7" text-anchor="end" stroke="#231f20" stroke-width="0.18">2</text>
<line x1="174.2" y1="249.68" x2="176.4" y2="249.68" stroke="#17171b" stroke-width="1.02"/>
<text x="172.5" y="252.45" font-size="7.7" text-anchor="end" stroke="#231f20" stroke-width="0.18">3</text>
<line x1="174.2" y1="232.44" x2="176.4" y2="232.44" stroke="#17171b" stroke-width="1.02"/>
<text x="172.5" y="235.21" font-size="7.7" text-anchor="end" stroke="#231f20" stroke-width="0.18">4</text>
<line x1="174.2" y1="215.2" x2="176.4" y2="215.2" stroke="#17171b" stroke-width="1.02"/>
<text x="172.5" y="217.97" font-size="7.7" text-anchor="end" stroke="#231f20" stroke-width="0.18">5</text>
<line x1="174.2" y1="197.96" x2="176.4" y2="197.96" stroke="#17171b" stroke-width="1.02"/>
<text x="172.5" y="200.73" font-size="7.7" text-anchor="end" stroke="#231f20" stroke-width="0.18">6</text>
<line x1="175.8" y1="301.4" x2="296.9" y2="301.4" stroke="#17171b" stroke-width="1.25"/>
<text x="191.5" y="311.2" font-size="7.9" text-anchor="middle" stroke="#231f20" stroke-width="0.18">3</text>
<text x="221.94" y="311.2" font-size="7.9" text-anchor="middle" stroke="#231f20" stroke-width="0.18">5</text>
<text x="252.38" y="311.2" font-size="7.9" text-anchor="middle" stroke="#231f20" stroke-width="0.18">7</text>
<text x="282.82" y="311.2" font-size="7.9" text-anchor="middle" stroke="#231f20" stroke-width="0.18">9</text>
<text x="239.8" y="318.6" font-size="8.4" text-anchor="middle" stroke="#231f20" stroke-width="0.18">Days after infection</text>
<text x="152.2" y="250.5" font-size="8.7" text-anchor="middle" transform="rotate(-90 152.2 250.5)" stroke="#231f20" stroke-width="0.18">Cell growth</text>
<text x="160.9" y="251" font-size="8.7" text-anchor="middle" transform="rotate(-90 160.9 251)" stroke="#231f20" stroke-width="0.18">(Fold change from day3)</text>
<polyline points="191.2,284.68 221.64,287.95 252.08,286.92 282.52,276.92" fill="none" stroke="#f8cd3a" stroke-width="1.3" stroke-linejoin="round"/>
<circle cx="221.64" cy="287.95" r="1.2" fill="#f8cd3a"/>
<circle cx="252.08" cy="286.92" r="1.2" fill="#f8cd3a"/>
<circle cx="282.52" cy="276.92" r="1.2" fill="#f8cd3a"/>
<line x1="184.1" y1="238.2" x2="191.8" y2="238.2" stroke="#f8cd3a" stroke-width="1.3"/>
<circle cx="187.9" cy="238.2" r="1.2" fill="#f8cd3a"/>
<text x="195.2" y="240.6" font-size="6.6" stroke="#231f20" stroke-width="0.18">TYK2 #3 shRNA</text>
<polyline points="191.2,284.16 221.64,283.3 252.08,280.37 282.52,265.71" fill="none" stroke="#e8793a" stroke-width="1.3" stroke-linejoin="round"/>
<circle cx="221.64" cy="283.3" r="1.5" fill="#e8793a"/>
<circle cx="252.08" cy="280.37" r="1.5" fill="#e8793a"/>
<circle cx="282.52" cy="265.71" r="1.5" fill="#e8793a"/>
<line x1="184.1" y1="228.8" x2="191.8" y2="228.8" stroke="#e8793a" stroke-width="1.3"/>
<circle cx="187.9" cy="228.8" r="1.5" fill="#e8793a"/>
<text x="194" y="231.2" font-size="6.6" stroke="#231f20" stroke-width="0.18">TYK2 #2 shRNA</text>
<polyline points="191.2,284.16 221.64,280.37 252.08,269.16 282.52,255.2" fill="none" stroke="#c4252c" stroke-width="1.3" stroke-linejoin="round"/>
<circle cx="221.64" cy="280.37" r="1.85" fill="#c4252c"/>
<circle cx="252.08" cy="269.16" r="1.85" fill="#c4252c"/>
<circle cx="282.52" cy="255.2" r="1.85" fill="#c4252c"/>
<line x1="184.1" y1="219.4" x2="191.8" y2="219.4" stroke="#c4252c" stroke-width="1.3"/>
<circle cx="187.9" cy="219.4" r="1.85" fill="#c4252c"/>
<text x="194" y="221.8" font-size="6.6" stroke="#231f20" stroke-width="0.18">TYK2 #1 shRNA</text>
<polyline points="191.2,284.16 221.64,274.33 252.08,259.51 282.52,206.58" fill="none" stroke="#1b2160" stroke-width="1.3" stroke-linejoin="round"/>
<circle cx="221.64" cy="274.33" r="1.5" fill="#1b2160"/>
<circle cx="252.08" cy="259.51" r="1.5" fill="#1b2160"/>
<circle cx="282.52" cy="206.58" r="1.5" fill="#1b2160"/>
<line x1="184.1" y1="210" x2="191.8" y2="210" stroke="#1b2160" stroke-width="1.3"/>
<circle cx="187.9" cy="210" r="1.5" fill="#1b2160"/>
<text x="194" y="212.4" font-size="6.6" stroke="#231f20" stroke-width="0.18">Control shRNA</text>
<circle cx="191.2" cy="284.16" r="1.3" fill="#e0a040"/>
<line x1="282.52" y1="209.17" x2="282.52" y2="203.99" stroke="#1b2160" stroke-width="0.7"/>
<line x1="252.08" y1="261.75" x2="252.08" y2="257.44" stroke="#1b2160" stroke-width="0.7"/>
<text x="347.8" y="195.2" font-size="12.6" font-weight="bold" stroke="#231f20" stroke-width="0.3">E</text>
<rect x="394.3" y="197.4" width="6.2" height="6.2" fill="#3b49a3" stroke="#222b76" stroke-width="0.45"/>
<text x="403.8" y="202.91" font-size="6.7" stroke="#231f20" stroke-width="0.18">Control shRNA</text>
<rect x="457.9" y="197.4" width="6.2" height="6.2" fill="#9c1d22" stroke="#6a1014" stroke-width="0.45"/>
<text x="467.6" y="202.91" font-size="6.7" stroke="#231f20" stroke-width="0.18">TYK2 #1 shRNA</text>
<rect x="394.3" y="206.1" width="6.2" height="6.2" fill="#f15a32" stroke="#b83a1c" stroke-width="0.45"/>
<text x="403.8" y="211.61" font-size="6.7" stroke="#231f20" stroke-width="0.18">TYK2 #2 shRNA</text>
<rect x="457.9" y="206.1" width="6.2" height="6.2" fill="#f9c235" stroke="#b8892a" stroke-width="0.45"/>
<text x="467.6" y="211.61" font-size="6.7" stroke="#231f20" stroke-width="0.18">TYK2 #3 shRNA</text>
<line x1="397.44" y1="230.6" x2="397.44" y2="229.58" stroke="#231f20" stroke-width="0.65"/>
<line x1="396.14" y1="229.58" x2="398.74" y2="229.58" stroke="#231f20" stroke-width="0.65"/>
<rect x="395.35" y="230.6" width="4.18" height="67.8" fill="#3b49a3" stroke="#222b76" stroke-width="0.6"/>
<line x1="402.52" y1="250.26" x2="402.52" y2="248.23" stroke="#231f20" stroke-width="0.65"/>
<line x1="401.22" y1="248.23" x2="403.82" y2="248.23" stroke="#231f20" stroke-width="0.65"/>
<rect x="400.43" y="250.26" width="4.18" height="48.14" fill="#9c1d22" stroke="#6a1014" stroke-width="0.6"/>
<line x1="407.6" y1="264.5" x2="407.6" y2="263.82" stroke="#231f20" stroke-width="0.65"/>
<line x1="406.3" y1="263.82" x2="408.9" y2="263.82" stroke="#231f20" stroke-width="0.65"/>
<rect x="405.51" y="264.5" width="4.18" height="33.9" fill="#f15a32" stroke="#b83a1c" stroke-width="0.6"/>
<line x1="412.68" y1="272.97" x2="412.68" y2="270.94" stroke="#231f20" stroke-width="0.65"/>
<line x1="411.38" y1="270.94" x2="413.98" y2="270.94" stroke="#231f20" stroke-width="0.65"/>
<rect x="410.59" y="272.97" width="4.18" height="25.43" fill="#f9c235" stroke="#b8892a" stroke-width="0.6"/>
<line x1="422.24" y1="230.6" x2="422.24" y2="229.58" stroke="#231f20" stroke-width="0.65"/>
<line x1="420.94" y1="229.58" x2="423.54" y2="229.58" stroke="#231f20" stroke-width="0.65"/>
<rect x="420.15" y="230.6" width="4.18" height="67.8" fill="#3b49a3" stroke="#222b76" stroke-width="0.6"/>
<line x1="427.32" y1="255.69" x2="427.32" y2="254.67" stroke="#231f20" stroke-width="0.65"/>
<line x1="426.02" y1="254.67" x2="428.62" y2="254.67" stroke="#231f20" stroke-width="0.65"/>
<rect x="425.23" y="255.69" width="4.18" height="42.71" fill="#9c1d22" stroke="#6a1014" stroke-width="0.6"/>
<line x1="432.4" y1="257.72" x2="432.4" y2="256.7" stroke="#231f20" stroke-width="0.65"/>
<line x1="431.1" y1="256.7" x2="433.7" y2="256.7" stroke="#231f20" stroke-width="0.65"/>
<rect x="430.31" y="257.72" width="4.18" height="40.68" fill="#f15a32" stroke="#b83a1c" stroke-width="0.6"/>
<line x1="437.48" y1="272.97" x2="437.48" y2="270.94" stroke="#231f20" stroke-width="0.65"/>
<line x1="436.18" y1="270.94" x2="438.78" y2="270.94" stroke="#231f20" stroke-width="0.65"/>
<rect x="435.39" y="272.97" width="4.18" height="25.43" fill="#f9c235" stroke="#b8892a" stroke-width="0.6"/>
<line x1="446.84" y1="230.6" x2="446.84" y2="227.89" stroke="#231f20" stroke-width="0.65"/>
<line x1="445.54" y1="227.89" x2="448.14" y2="227.89" stroke="#231f20" stroke-width="0.65"/>
<rect x="444.75" y="230.6" width="4.18" height="67.8" fill="#3b49a3" stroke="#222b76" stroke-width="0.6"/>
<line x1="451.92" y1="247.21" x2="451.92" y2="244.16" stroke="#231f20" stroke-width="0.65"/>
<line x1="450.62" y1="244.16" x2="453.22" y2="244.16" stroke="#231f20" stroke-width="0.65"/>
<rect x="449.83" y="247.21" width="4.18" height="51.19" fill="#9c1d22" stroke="#6a1014" stroke-width="0.6"/>
<line x1="457" y1="267.89" x2="457" y2="264.84" stroke="#231f20" stroke-width="0.65"/>
<line x1="455.7" y1="264.84" x2="458.3" y2="264.84" stroke="#231f20" stroke-width="0.65"/>
<rect x="454.91" y="267.89" width="4.18" height="30.51" fill="#f15a32" stroke="#b83a1c" stroke-width="0.6"/>
<line x1="462.08" y1="253.65" x2="462.08" y2="250.94" stroke="#231f20" stroke-width="0.65"/>
<line x1="460.78" y1="250.94" x2="463.38" y2="250.94" stroke="#231f20" stroke-width="0.65"/>
<rect x="459.99" y="253.65" width="4.18" height="44.75" fill="#f9c235" stroke="#b8892a" stroke-width="0.6"/>
<line x1="471.34" y1="230.6" x2="471.34" y2="229.58" stroke="#231f20" stroke-width="0.65"/>
<line x1="470.04" y1="229.58" x2="472.64" y2="229.58" stroke="#231f20" stroke-width="0.65"/>
<rect x="469.25" y="230.6" width="4.18" height="67.8" fill="#3b49a3" stroke="#222b76" stroke-width="0.6"/>
<line x1="476.42" y1="250.94" x2="476.42" y2="248.23" stroke="#231f20" stroke-width="0.65"/>
<line x1="475.12" y1="248.23" x2="477.72" y2="248.23" stroke="#231f20" stroke-width="0.65"/>
<rect x="474.33" y="250.94" width="4.18" height="47.46" fill="#9c1d22" stroke="#6a1014" stroke-width="0.6"/>
<line x1="481.5" y1="261.11" x2="481.5" y2="260.43" stroke="#231f20" stroke-width="0.65"/>
<line x1="480.2" y1="260.43" x2="482.8" y2="260.43" stroke="#231f20" stroke-width="0.65"/>
<rect x="479.41" y="261.11" width="4.18" height="37.29" fill="#f15a32" stroke="#b83a1c" stroke-width="0.6"/>
<line x1="486.58" y1="250.94" x2="486.58" y2="249.24" stroke="#231f20" stroke-width="0.65"/>
<line x1="485.28" y1="249.24" x2="487.88" y2="249.24" stroke="#231f20" stroke-width="0.65"/>
<rect x="484.49" y="250.94" width="4.18" height="47.46" fill="#f9c235" stroke="#b8892a" stroke-width="0.6"/>
<line x1="495.84" y1="230.6" x2="495.84" y2="225.18" stroke="#231f20" stroke-width="0.65"/>
<line x1="494.54" y1="225.18" x2="497.14" y2="225.18" stroke="#231f20" stroke-width="0.65"/>
<rect x="493.75" y="230.6" width="4.18" height="67.8" fill="#3b49a3" stroke="#222b76" stroke-width="0.6"/>
<line x1="500.92" y1="224.5" x2="500.92" y2="222.8" stroke="#231f20" stroke-width="0.65"/>
<line x1="499.62" y1="222.8" x2="502.22" y2="222.8" stroke="#231f20" stroke-width="0.65"/>
<rect x="498.83" y="224.5" width="4.18" height="73.9" fill="#9c1d22" stroke="#6a1014" stroke-width="0.6"/>
<line x1="506" y1="223.82" x2="506" y2="219.07" stroke="#231f20" stroke-width="0.65"/>
<line x1="504.7" y1="219.07" x2="507.3" y2="219.07" stroke="#231f20" stroke-width="0.65"/>
<rect x="503.91" y="223.82" width="4.18" height="74.58" fill="#f15a32" stroke="#b83a1c" stroke-width="0.6"/>
<line x1="511.08" y1="230.6" x2="511.08" y2="228.57" stroke="#231f20" stroke-width="0.65"/>
<line x1="509.78" y1="228.57" x2="512.38" y2="228.57" stroke="#231f20" stroke-width="0.65"/>
<rect x="508.99" y="230.6" width="4.18" height="67.8" fill="#f9c235" stroke="#b8892a" stroke-width="0.6"/>
<line x1="392.7" y1="217" x2="392.7" y2="298.72" stroke="#3a3a3e" stroke-width="0.65"/>
<line x1="390.5" y1="298.4" x2="392.7" y2="298.4" stroke="#3a3a3e" stroke-width="0.55"/>
<text x="388.5" y="301.17" font-size="7.7" text-anchor="end" stroke="#231f20" stroke-width="0.18">0</text>
<line x1="390.5" y1="281.45" x2="392.7" y2="281.45" stroke="#3a3a3e" stroke-width="0.55"/>
<text x="388.5" y="284.22" font-size="7.7" text-anchor="end" stroke="#231f20" stroke-width="0.18">25</text>
<line x1="390.5" y1="264.5" x2="392.7" y2="264.5" stroke="#3a3a3e" stroke-width="0.55"/>
<text x="388.5" y="267.27" font-size="7.7" text-anchor="end" stroke="#231f20" stroke-width="0.18">50</text>
<line x1="390.5" y1="247.55" x2="392.7" y2="247.55" stroke="#3a3a3e" stroke-width="0.55"/>
<text x="388.5" y="250.32" font-size="7.7" text-anchor="end" stroke="#231f20" stroke-width="0.18">75</text>
<line x1="390.5" y1="230.6" x2="392.7" y2="230.6" stroke="#3a3a3e" stroke-width="0.55"/>
<text x="388.5" y="233.37" font-size="7.7" text-anchor="end" stroke="#231f20" stroke-width="0.18">100</text>
<line x1="392.25" y1="298.4" x2="517" y2="298.4" stroke="#231f20" stroke-width="1.2"/>
<text x="403" y="245.76" font-size="5.6" text-anchor="middle" fill="#8792b4" stroke="#8792b4" stroke-width="0.12">**</text>
<text x="408.4" y="258.64" font-size="5.6" text-anchor="middle" fill="#8792b4" stroke="#8792b4" stroke-width="0.12">***</text>
<text x="413.6" y="266.1" font-size="5.6" text-anchor="middle" fill="#8792b4" stroke="#8792b4" stroke-width="0.12">***</text>
<text x="427.6" y="250.51" font-size="5.6" text-anchor="middle" fill="#8792b4" stroke="#8792b4" stroke-width="0.12">***</text>
<text x="433" y="252.54" font-size="5.6" text-anchor="middle" fill="#8792b4" stroke="#8792b4" stroke-width="0.12">***</text>
<text x="438" y="266.1" font-size="5.6" text-anchor="middle" fill="#8792b4" stroke="#8792b4" stroke-width="0.12">***</text>
<text x="451.8" y="238.98" font-size="5.6" text-anchor="middle" fill="#8792b4" stroke="#8792b4" stroke-width="0.12">*</text>
<text x="457.9" y="245.08" font-size="5.6" text-anchor="middle" fill="#8792b4" stroke="#8792b4" stroke-width="0.12">***</text>
<text x="462.4" y="250.17" font-size="5.6" text-anchor="middle" fill="#8792b4" stroke="#8792b4" stroke-width="0.12">**</text>
<text x="476.6" y="248.13" font-size="5.6" text-anchor="middle" fill="#8792b4" stroke="#8792b4" stroke-width="0.12">**</text>
<text x="481.6" y="257.96" font-size="5.6" text-anchor="middle" fill="#8792b4" stroke="#8792b4" stroke-width="0.12">**</text>
<text x="486.9" y="248.81" font-size="5.6" text-anchor="middle" fill="#8792b4" stroke="#8792b4" stroke-width="0.12">**</text>
<text x="403.8" y="307.9" font-size="6.7" text-anchor="middle" stroke="#231f20" stroke-width="0.18">JURKAT</text>
<text x="430.6" y="307.9" font-size="6.7" text-anchor="middle" stroke="#231f20" stroke-width="0.18">RPMI-</text>
<text x="430.6" y="315.8" font-size="6.7" text-anchor="middle" stroke="#231f20" stroke-width="0.18">8402</text>
<text x="454.9" y="307.9" font-size="6.7" text-anchor="middle" stroke="#231f20" stroke-width="0.18">HPB-</text>
<text x="454.9" y="315.8" font-size="6.7" text-anchor="middle" stroke="#231f20" stroke-width="0.18">ALL</text>
<text x="479.8" y="307.9" font-size="6.7" text-anchor="middle" stroke="#231f20" stroke-width="0.18">MOLT-4</text>
<text x="507.1" y="307.9" font-size="6.7" text-anchor="middle" stroke="#231f20" stroke-width="0.18">LOUCY</text>
<text x="358.8" y="264" font-size="8.6" text-anchor="middle" transform="rotate(-90 358.8 264)" stroke="#231f20" stroke-width="0.18">Growth rate (day7/day3:</text>
<text x="369" y="265" font-size="8.7" text-anchor="middle" transform="rotate(-90 369 265)" stroke="#231f20" stroke-width="0.18">% of control shRNA)</text>
<text x="9" y="338" font-size="12.6" font-weight="bold" stroke="#231f20" stroke-width="0.3">F</text>
<rect x="113.9" y="341.6" width="6.2" height="6.2" fill="#3b49a3" stroke="#222b76" stroke-width="0.5"/>
<text x="123.3" y="347.4" font-size="7.6" stroke="#231f20" stroke-width="0.18">Control siRNA</text>
<rect x="208.2" y="341.6" width="6.2" height="6.2" fill="#ee2a2c" stroke="#a8141a" stroke-width="0.5"/>
<text x="217" y="347.4" font-size="7.6" stroke="#231f20" stroke-width="0.18">TYK2 siRNA</text>
<line x1="70.35" y1="379.2" x2="70.35" y2="367.29" stroke="#231f20" stroke-width="0.8"/>
<line x1="67.85" y1="367.29" x2="72.85" y2="367.29" stroke="#231f20" stroke-width="0.8"/>
<rect x="65.2" y="379.2" width="10.2" height="39.7" fill="#3b49a3" stroke="#222b76" stroke-width="0.6"/>
<line x1="82.15" y1="406.2" x2="82.15" y2="396.27" stroke="#231f20" stroke-width="0.8"/>
<line x1="79.65" y1="396.27" x2="84.65" y2="396.27" stroke="#231f20" stroke-width="0.8"/>
<rect x="76.9" y="406.2" width="10.7" height="12.7" fill="#ee2a2c" stroke="#a8141a" stroke-width="0.6"/>
<text x="83.15" y="395.67" font-size="7.2" text-anchor="middle" fill="#1f2028" stroke="#1f2028" stroke-width="0.25">*</text>
<text x="76.8" y="427" font-size="7.6" text-anchor="middle" stroke="#231f20" stroke-width="0.18">#1</text>
<line x1="102.35" y1="379.2" x2="102.35" y2="377.61" stroke="#231f20" stroke-width="0.8"/>
<line x1="99.85" y1="377.61" x2="104.85" y2="377.61" stroke="#231f20" stroke-width="0.8"/>
<rect x="97.2" y="379.2" width="10.2" height="39.7" fill="#3b49a3" stroke="#222b76" stroke-width="0.6"/>
<line x1="114.15" y1="402.03" x2="114.15" y2="399.65" stroke="#231f20" stroke-width="0.8"/>
<line x1="111.65" y1="399.65" x2="116.65" y2="399.65" stroke="#231f20" stroke-width="0.8"/>
<rect x="108.9" y="402.03" width="10.7" height="16.87" fill="#ee2a2c" stroke="#a8141a" stroke-width="0.6"/>
<text x="115.15" y="399.05" font-size="7.2" text-anchor="middle" fill="#1f2028" stroke="#1f2028" stroke-width="0.25">*</text>
<text x="108.8" y="427" font-size="7.6" text-anchor="middle" stroke="#231f20" stroke-width="0.18">#2</text>
<line x1="134.85" y1="379.2" x2="134.85" y2="377.41" stroke="#231f20" stroke-width="0.8"/>
<line x1="132.35" y1="377.41" x2="137.35" y2="377.41" stroke="#231f20" stroke-width="0.8"/>
<rect x="129.7" y="379.2" width="10.2" height="39.7" fill="#3b49a3" stroke="#222b76" stroke-width="0.6"/>
<line x1="146.65" y1="391.11" x2="146.65" y2="389.92" stroke="#231f20" stroke-width="0.8"/>
<line x1="144.15" y1="389.92" x2="149.15" y2="389.92" stroke="#231f20" stroke-width="0.8"/>
<rect x="141.4" y="391.11" width="10.7" height="27.79" fill="#ee2a2c" stroke="#a8141a" stroke-width="0.6"/>
<text x="147.65" y="389.32" font-size="7.2" text-anchor="middle" fill="#1f2028" stroke="#1f2028" stroke-width="0.25">*</text>
<text x="141.3" y="427" font-size="7.6" text-anchor="middle" stroke="#231f20" stroke-width="0.18">#3</text>
<line x1="168.05" y1="379.2" x2="168.05" y2="378.01" stroke="#231f20" stroke-width="0.8"/>
<line x1="165.55" y1="378.01" x2="170.55" y2="378.01" stroke="#231f20" stroke-width="0.8"/>
<rect x="162.9" y="379.2" width="10.2" height="39.7" fill="#3b49a3" stroke="#222b76" stroke-width="0.6"/>
<line x1="179.85" y1="389.12" x2="179.85" y2="388.33" stroke="#231f20" stroke-width="0.8"/>
<line x1="177.35" y1="388.33" x2="182.35" y2="388.33" stroke="#231f20" stroke-width="0.8"/>
<rect x="174.6" y="389.12" width="10.7" height="29.78" fill="#ee2a2c" stroke="#a8141a" stroke-width="0.6"/>
<text x="180.85" y="387.73" font-size="7.2" text-anchor="middle" fill="#1f2028" stroke="#1f2028" stroke-width="0.25">*</text>
<text x="174.5" y="427" font-size="7.6" text-anchor="middle" stroke="#231f20" stroke-width="0.18">#4</text>
<line x1="202.15" y1="379.2" x2="202.15" y2="377.61" stroke="#231f20" stroke-width="0.8"/>
<line x1="199.65" y1="377.61" x2="204.65" y2="377.61" stroke="#231f20" stroke-width="0.8"/>
<rect x="197" y="379.2" width="10.2" height="39.7" fill="#3b49a3" stroke="#222b76" stroke-width="0.6"/>
<line x1="213.95" y1="388.33" x2="213.95" y2="387.54" stroke="#231f20" stroke-width="0.8"/>
<line x1="211.45" y1="387.54" x2="216.45" y2="387.54" stroke="#231f20" stroke-width="0.8"/>
<rect x="208.7" y="388.33" width="10.7" height="30.57" fill="#ee2a2c" stroke="#a8141a" stroke-width="0.6"/>
<text x="214.95" y="386.94" font-size="7.2" text-anchor="middle" fill="#1f2028" stroke="#1f2028" stroke-width="0.25">*</text>
<text x="208.6" y="427" font-size="7.6" text-anchor="middle" stroke="#231f20" stroke-width="0.18">#5</text>
<line x1="236.35" y1="379.2" x2="236.35" y2="373.25" stroke="#231f20" stroke-width="0.8"/>
<line x1="233.85" y1="373.25" x2="238.85" y2="373.25" stroke="#231f20" stroke-width="0.8"/>
<rect x="231.2" y="379.2" width="10.2" height="39.7" fill="#3b49a3" stroke="#222b76" stroke-width="0.6"/>
<line x1="248.15" y1="378.41" x2="248.15" y2="373.25" stroke="#231f20" stroke-width="0.8"/>
<line x1="245.65" y1="373.25" x2="250.65" y2="373.25" stroke="#231f20" stroke-width="0.8"/>
<rect x="242.9" y="378.41" width="10.7" height="40.49" fill="#ee2a2c" stroke="#a8141a" stroke-width="0.6"/>
<text x="242.8" y="427" font-size="7.6" text-anchor="middle" stroke="#231f20" stroke-width="0.18">#6</text>
<line x1="269.85" y1="379.2" x2="269.85" y2="373.25" stroke="#231f20" stroke-width="0.8"/>
<line x1="267.35" y1="373.25" x2="272.35" y2="373.25" stroke="#231f20" stroke-width="0.8"/>
<rect x="264.7" y="379.2" width="10.2" height="39.7" fill="#3b49a3" stroke="#222b76" stroke-width="0.6"/>
<line x1="281.65" y1="375.23" x2="281.65" y2="373.84" stroke="#231f20" stroke-width="0.8"/>
<line x1="279.15" y1="373.84" x2="284.15" y2="373.84" stroke="#231f20" stroke-width="0.8"/>
<rect x="276.4" y="375.23" width="10.7" height="43.67" fill="#ee2a2c" stroke="#a8141a" stroke-width="0.6"/>
<text x="276.3" y="427" font-size="7.6" text-anchor="middle" stroke="#231f20" stroke-width="0.18">#7</text>
<line x1="304.25" y1="379.2" x2="304.25" y2="373.25" stroke="#231f20" stroke-width="0.8"/>
<line x1="301.75" y1="373.25" x2="306.75" y2="373.25" stroke="#231f20" stroke-width="0.8"/>
<rect x="299.1" y="379.2" width="10.2" height="39.7" fill="#3b49a3" stroke="#222b76" stroke-width="0.6"/>
<line x1="316.05" y1="376.02" x2="316.05" y2="371.26" stroke="#231f20" stroke-width="0.8"/>
<line x1="313.55" y1="371.26" x2="318.55" y2="371.26" stroke="#231f20" stroke-width="0.8"/>
<rect x="310.8" y="376.02" width="10.7" height="42.88" fill="#ee2a2c" stroke="#a8141a" stroke-width="0.6"/>
<text x="310.7" y="427" font-size="7.6" text-anchor="middle" stroke="#231f20" stroke-width="0.18">#8</text>
<line x1="62.2" y1="358.95" x2="62.2" y2="419.3" stroke="#231f20" stroke-width="0.8"/>
<line x1="60.2" y1="418.9" x2="62.2" y2="418.9" stroke="#231f20" stroke-width="0.68"/>
<text x="59.8" y="421.74" font-size="7.9" text-anchor="end" stroke="#231f20" stroke-width="0.18">0</text>
<line x1="60.2" y1="399.05" x2="62.2" y2="399.05" stroke="#231f20" stroke-width="0.68"/>
<text x="59.8" y="401.89" font-size="7.9" text-anchor="end" stroke="#231f20" stroke-width="0.18">50</text>
<line x1="60.2" y1="379.2" x2="62.2" y2="379.2" stroke="#231f20" stroke-width="0.68"/>
<text x="59.8" y="382.04" font-size="7.9" text-anchor="end" stroke="#231f20" stroke-width="0.18">100</text>
<line x1="60.2" y1="359.35" x2="62.2" y2="359.35" stroke="#231f20" stroke-width="0.68"/>
<text x="59.8" y="362.19" font-size="7.9" text-anchor="end" stroke="#231f20" stroke-width="0.18">150</text>
<line x1="61.8" y1="418.9" x2="326.5" y2="418.9" stroke="#231f20" stroke-width="1"/>
<text x="30.2" y="389.6" font-size="8.8" text-anchor="middle" transform="rotate(-90 30.2 389.6)" stroke="#231f20" stroke-width="0.18">Cell viability</text>
<text x="40" y="389.6" font-size="8.7" text-anchor="middle" transform="rotate(-90 40 389.6)" stroke="#231f20" stroke-width="0.18">(% of control)</text>
<text x="33.9" y="427.3" font-size="7.5" text-anchor="middle" stroke="#231f20" stroke-width="0.18">Primagraft</text>
<text x="33.9" y="436.3" font-size="7.5" text-anchor="middle" stroke="#231f20" stroke-width="0.18">samples</text>
<text x="347" y="336.3" font-size="12.6" font-weight="bold" stroke="#231f20" stroke-width="0.3">G</text>
<rect x="393" y="330.9" width="6.6" height="6.6" fill="#3b49a3" stroke="#222b76" stroke-width="0.45"/>
<text x="402.9" y="336.61" font-size="6.7" stroke="#231f20" stroke-width="0.18">Control shRNA</text>
<rect x="457.6" y="330.9" width="6.6" height="6.6" fill="#9c1d22" stroke="#6a1014" stroke-width="0.45"/>
<text x="467.5" y="336.61" font-size="6.7" stroke="#231f20" stroke-width="0.18">TYK2 #1 shRNA</text>
<rect x="393" y="339" width="6.6" height="6.6" fill="#f15a32" stroke="#b83a1c" stroke-width="0.45"/>
<text x="402.9" y="344.71" font-size="6.7" stroke="#231f20" stroke-width="0.18">TYK2 #2 shRNA</text>
<rect x="457.6" y="339" width="6.6" height="6.6" fill="#f9c235" stroke="#b8892a" stroke-width="0.45"/>
<text x="467.5" y="344.71" font-size="6.7" stroke="#231f20" stroke-width="0.18">TYK2 #3 shRNA</text>
<line x1="397.9" y1="396.95" x2="397.9" y2="395.57" stroke="#231f20" stroke-width="0.65"/>
<line x1="396.2" y1="395.57" x2="399.6" y2="395.57" stroke="#231f20" stroke-width="0.65"/>
<rect x="395.2" y="396.95" width="5.4" height="35.55" fill="#3b49a3" stroke="#222b76" stroke-width="0.65"/>
<line x1="404.3" y1="377.79" x2="404.3" y2="376.68" stroke="#231f20" stroke-width="0.65"/>
<line x1="402.6" y1="376.68" x2="406" y2="376.68" stroke="#231f20" stroke-width="0.65"/>
<rect x="401.6" y="377.79" width="5.4" height="54.71" fill="#9c1d22" stroke="#6a1014" stroke-width="0.65"/>
<line x1="410.7" y1="362.52" x2="410.7" y2="361.96" stroke="#231f20" stroke-width="0.65"/>
<line x1="409" y1="361.96" x2="412.4" y2="361.96" stroke="#231f20" stroke-width="0.65"/>
<rect x="408" y="362.52" width="5.4" height="69.98" fill="#f15a32" stroke="#b83a1c" stroke-width="0.65"/>
<line x1="417.1" y1="357.24" x2="417.1" y2="355.3" stroke="#231f20" stroke-width="0.65"/>
<line x1="415.4" y1="355.3" x2="418.8" y2="355.3" stroke="#231f20" stroke-width="0.65"/>
<rect x="414.4" y="357.24" width="5.4" height="75.26" fill="#f9c235" stroke="#b8892a" stroke-width="0.65"/>
<line x1="429" y1="402.23" x2="429" y2="401.95" stroke="#231f20" stroke-width="0.65"/>
<line x1="427.3" y1="401.95" x2="430.7" y2="401.95" stroke="#231f20" stroke-width="0.65"/>
<rect x="426.3" y="402.23" width="5.4" height="30.27" fill="#3b49a3" stroke="#222b76" stroke-width="0.65"/>
<line x1="435.4" y1="385.85" x2="435.4" y2="384.74" stroke="#231f20" stroke-width="0.65"/>
<line x1="433.7" y1="384.74" x2="437.1" y2="384.74" stroke="#231f20" stroke-width="0.65"/>
<rect x="432.7" y="385.85" width="5.4" height="46.65" fill="#9c1d22" stroke="#6a1014" stroke-width="0.65"/>
<line x1="441.8" y1="393.07" x2="441.8" y2="392.23" stroke="#231f20" stroke-width="0.65"/>
<line x1="440.1" y1="392.23" x2="443.5" y2="392.23" stroke="#231f20" stroke-width="0.65"/>
<rect x="439.1" y="393.07" width="5.4" height="39.43" fill="#f15a32" stroke="#b83a1c" stroke-width="0.65"/>
<line x1="448.2" y1="397.51" x2="448.2" y2="396.95" stroke="#231f20" stroke-width="0.65"/>
<line x1="446.5" y1="396.95" x2="449.9" y2="396.95" stroke="#231f20" stroke-width="0.65"/>
<rect x="445.5" y="397.51" width="5.4" height="34.99" fill="#f9c235" stroke="#b8892a" stroke-width="0.65"/>
<line x1="460" y1="398.9" x2="460" y2="397.79" stroke="#231f20" stroke-width="0.65"/>
<line x1="458.3" y1="397.79" x2="461.7" y2="397.79" stroke="#231f20" stroke-width="0.65"/>
<rect x="457.3" y="398.9" width="5.4" height="33.6" fill="#3b49a3" stroke="#222b76" stroke-width="0.65"/>
<line x1="466.4" y1="381.4" x2="466.4" y2="380.85" stroke="#231f20" stroke-width="0.65"/>
<line x1="464.7" y1="380.85" x2="468.1" y2="380.85" stroke="#231f20" stroke-width="0.65"/>
<rect x="463.7" y="381.4" width="5.4" height="51.1" fill="#9c1d22" stroke="#6a1014" stroke-width="0.65"/>
<line x1="472.8" y1="376.96" x2="472.8" y2="376.4" stroke="#231f20" stroke-width="0.65"/>
<line x1="471.1" y1="376.4" x2="474.5" y2="376.4" stroke="#231f20" stroke-width="0.65"/>
<rect x="470.1" y="376.96" width="5.4" height="55.54" fill="#f15a32" stroke="#b83a1c" stroke-width="0.65"/>
<line x1="479.2" y1="400.01" x2="479.2" y2="398.62" stroke="#231f20" stroke-width="0.65"/>
<line x1="477.5" y1="398.62" x2="480.9" y2="398.62" stroke="#231f20" stroke-width="0.65"/>
<rect x="476.5" y="400.01" width="5.4" height="32.49" fill="#f9c235" stroke="#b8892a" stroke-width="0.65"/>
<line x1="491" y1="407.78" x2="491" y2="407.51" stroke="#231f20" stroke-width="0.65"/>
<line x1="489.3" y1="407.51" x2="492.7" y2="407.51" stroke="#231f20" stroke-width="0.65"/>
<rect x="488.3" y="407.78" width="5.4" height="24.72" fill="#3b49a3" stroke="#222b76" stroke-width="0.65"/>
<line x1="497.4" y1="406.95" x2="497.4" y2="406.4" stroke="#231f20" stroke-width="0.65"/>
<line x1="495.7" y1="406.4" x2="499.1" y2="406.4" stroke="#231f20" stroke-width="0.65"/>
<rect x="494.7" y="406.95" width="5.4" height="25.55" fill="#9c1d22" stroke="#6a1014" stroke-width="0.65"/>
<line x1="503.8" y1="401.12" x2="503.8" y2="400.29" stroke="#231f20" stroke-width="0.65"/>
<line x1="502.1" y1="400.29" x2="505.5" y2="400.29" stroke="#231f20" stroke-width="0.65"/>
<rect x="501.1" y="401.12" width="5.4" height="31.38" fill="#f15a32" stroke="#b83a1c" stroke-width="0.65"/>
<line x1="510.2" y1="406.95" x2="510.2" y2="406.12" stroke="#231f20" stroke-width="0.65"/>
<line x1="508.5" y1="406.12" x2="511.9" y2="406.12" stroke="#231f20" stroke-width="0.65"/>
<rect x="507.5" y="406.95" width="5.4" height="25.55" fill="#f9c235" stroke="#b8892a" stroke-width="0.65"/>
<line x1="392.1" y1="348.79" x2="392.1" y2="432.82" stroke="#3a3a3e" stroke-width="0.65"/>
<line x1="389.9" y1="432.5" x2="392.1" y2="432.5" stroke="#3a3a3e" stroke-width="0.55"/>
<text x="388" y="435.34" font-size="7.9" text-anchor="end" stroke="#231f20" stroke-width="0.18">0</text>
<line x1="389.9" y1="404.73" x2="392.1" y2="404.73" stroke="#3a3a3e" stroke-width="0.55"/>
<text x="388" y="407.57" font-size="7.9" text-anchor="end" stroke="#231f20" stroke-width="0.18">10</text>
<line x1="389.9" y1="376.96" x2="392.1" y2="376.96" stroke="#3a3a3e" stroke-width="0.55"/>
<text x="388" y="379.8" font-size="7.9" text-anchor="end" stroke="#231f20" stroke-width="0.18">20</text>
<line x1="389.9" y1="349.19" x2="392.1" y2="349.19" stroke="#3a3a3e" stroke-width="0.55"/>
<text x="388" y="352.03" font-size="7.9" text-anchor="end" stroke="#231f20" stroke-width="0.18">30</text>
<line x1="391.7" y1="432.5" x2="516.3" y2="432.5" stroke="#231f20" stroke-width="1.2"/>
<text x="404.4" y="375.95" font-size="6" text-anchor="middle" fill="#8792b4" stroke="#8792b4" stroke-width="0.12">*</text>
<text x="410.8" y="360.68" font-size="6" text-anchor="middle" fill="#8792b4" stroke="#8792b4" stroke-width="0.12">**</text>
<text x="417.2" y="355.12" font-size="6" text-anchor="middle" fill="#8792b4" stroke="#8792b4" stroke-width="0.12">*</text>
<text x="435.5" y="382.89" font-size="6" text-anchor="middle" fill="#8792b4" stroke="#8792b4" stroke-width="0.12">*</text>
<text x="441.8" y="390.11" font-size="6" text-anchor="middle" fill="#8792b4" stroke="#8792b4" stroke-width="0.12">*</text>
<text x="448.2" y="394.56" font-size="6" text-anchor="middle" fill="#8792b4" stroke="#8792b4" stroke-width="0.12">*</text>
<text x="466.5" y="377.89" font-size="6" text-anchor="middle" fill="#8792b4" stroke="#8792b4" stroke-width="0.12">**</text>
<text x="472.9" y="372.9" font-size="6" text-anchor="middle" fill="#8792b4" stroke="#8792b4" stroke-width="0.12">**</text>
<text x="404.2" y="441.4" font-size="7.05" text-anchor="middle" stroke="#231f20" stroke-width="0.18">JURKAT</text>
<text x="430.5" y="441.4" font-size="7.3" stroke="#231f20" stroke-width="0.18">RPMI-</text>
<text x="430.7" y="449.4" font-size="7.3" stroke="#231f20" stroke-width="0.18">8402</text>
<text x="462.1" y="441.4" font-size="7.1" stroke="#231f20" stroke-width="0.18">HPB-</text>
<text x="462.1" y="449.4" font-size="7.1" stroke="#231f20" stroke-width="0.18">ALL</text>
<text x="500.6" y="441.4" font-size="7.25" text-anchor="middle" stroke="#231f20" stroke-width="0.18">LOUCY</text>
<text x="371.5" y="389.9" font-size="8.9" text-anchor="middle" transform="rotate(-90 371.5 389.9)" stroke="#231f20" stroke-width="0.18">Apoptosis (%)</text>
<text x="8.6" y="456.6" font-size="12.6" font-weight="bold" stroke="#231f20" stroke-width="0.3">H</text>
<text x="46.9" y="470.2" font-size="7.6" text-anchor="middle" stroke="#231f20" stroke-width="0.18">JURKAT</text>
<path d="M30.6 478 V474.1 H62.4 V478" fill="none" stroke="#3a3a3e" stroke-width="0.7"/>
<text x="33.6" y="484.7" font-size="6.4" text-anchor="middle" stroke="#231f20" stroke-width="0.18">−</text>
<text x="41.9" y="484.7" font-size="6.4" text-anchor="middle" stroke="#231f20" stroke-width="0.18">−</text>
<text x="50.3" y="484.7" font-size="6.4" text-anchor="middle" stroke="#231f20" stroke-width="0.18">+</text>
<text x="58.2" y="484.7" font-size="6.4" text-anchor="middle" stroke="#231f20" stroke-width="0.18">+</text>
<text x="65.4" y="484.9" font-size="6.5" stroke="#231f20" stroke-width="0.18">TYK2 WT cDNA</text>
<text x="33.6" y="493.8" font-size="6.4" text-anchor="middle" stroke="#231f20" stroke-width="0.18">+</text>
<text x="41.9" y="493.8" font-size="6.4" text-anchor="middle" stroke="#231f20" stroke-width="0.18">−</text>
<text x="50.3" y="493.8" font-size="6.4" text-anchor="middle" stroke="#231f20" stroke-width="0.18">+</text>
<text x="58.2" y="493.8" font-size="6.4" text-anchor="middle" stroke="#231f20" stroke-width="0.18">−</text>
<text x="65.4" y="494" font-size="6.5" stroke="#231f20" stroke-width="0.18">Control shRNA</text>
<text x="33.6" y="502.4" font-size="6.4" text-anchor="middle" stroke="#231f20" stroke-width="0.18">−</text>
<text x="41.9" y="502.4" font-size="6.4" text-anchor="middle" stroke="#231f20" stroke-width="0.18">+</text>
<text x="50.3" y="502.4" font-size="6.4" text-anchor="middle" stroke="#231f20" stroke-width="0.18">−</text>
<text x="58.2" y="502.4" font-size="6.4" text-anchor="middle" stroke="#231f20" stroke-width="0.18">+</text>
<text x="65.4" y="502.6" font-size="6.5" stroke="#231f20" stroke-width="0.18">TYK2 #2 shRNA</text>
<rect x="29" y="506" width="33.2" height="13.6" fill="#d2d2d4" stroke="#2c2c2e" stroke-width="0.9"/>
<rect x="31.1" y="511.6" width="6.2" height="2" rx="0.8" fill="#2b2b30"/>
<rect x="47.8" y="511.6" width="6.2" height="2" rx="0.8" fill="#2b2b30"/>
<rect x="56" y="512" width="5.2" height="1.6" rx="0.8" fill="#9a9aa0"/>
<rect x="29" y="522.2" width="33.2" height="17.4" fill="#d2d2d4" stroke="#2c2c2e" stroke-width="0.9"/>
<rect x="31.1" y="526.45" width="5.6" height="1.5" rx="0.8" fill="#85858b"/>
<rect x="39.4" y="526.45" width="5.6" height="1.5" rx="0.8" fill="#85858b"/>
<rect x="47.8" y="526.45" width="5.6" height="1.5" rx="0.8" fill="#85858b"/>
<rect x="55.7" y="526.45" width="5.6" height="1.5" rx="0.8" fill="#85858b"/>
<rect x="39.5" y="533.85" width="5.6" height="1.5" rx="0.8" fill="#727278"/>
<rect x="29" y="541.6" width="33.2" height="12.6" fill="#d2d2d4" stroke="#2c2c2e" stroke-width="0.9"/>
<rect x="30.5" y="546.4" width="6.8" height="2.4" rx="0.8" fill="#1f1f24"/>
<rect x="38.8" y="546.4" width="6.8" height="2.4" rx="0.8" fill="#1f1f24"/>
<rect x="47.2" y="546.4" width="6.8" height="2.4" rx="0.8" fill="#1f1f24"/>
<rect x="55.1" y="546.4" width="6.8" height="2.4" rx="0.8" fill="#1f1f24"/>
<text x="65.4" y="516.8" font-size="6.6" stroke="#231f20" stroke-width="0.18">TYK2</text>
<text x="65.4" y="529.6" font-size="6.6" stroke="#231f20" stroke-width="0.18">PARP</text>
<text x="65.4" y="539" font-size="6.5" stroke="#231f20" stroke-width="0.18">Cleaved-PARP</text>
<text x="65.4" y="549.8" font-size="6.5" stroke="#231f20" stroke-width="0.18">α-Tubulin</text>
<line x1="189.05" y1="480.2" x2="189.05" y2="477.58" stroke="#231f20" stroke-width="0.7"/>
<line x1="187.05" y1="477.58" x2="191.05" y2="477.58" stroke="#231f20" stroke-width="0.7"/>
<rect x="183.2" y="480.2" width="11.9" height="65.5" fill="#3b49a3" stroke="#222b76" stroke-width="0.6"/>
<line x1="201.65" y1="511.64" x2="201.65" y2="510.66" stroke="#231f20" stroke-width="0.7"/>
<line x1="199.65" y1="510.66" x2="203.65" y2="510.66" stroke="#231f20" stroke-width="0.7"/>
<rect x="196" y="511.64" width="11.5" height="34.06" fill="#ee2a2c" stroke="#a8141a" stroke-width="0.6"/>
<line x1="232.35" y1="480.2" x2="232.35" y2="478.56" stroke="#231f20" stroke-width="0.7"/>
<line x1="230.35" y1="478.56" x2="234.35" y2="478.56" stroke="#231f20" stroke-width="0.7"/>
<rect x="226.5" y="480.2" width="11.9" height="65.5" fill="#3b49a3" stroke="#222b76" stroke-width="0.6"/>
<line x1="244.95" y1="489.24" x2="244.95" y2="487.08" stroke="#231f20" stroke-width="0.7"/>
<line x1="242.95" y1="487.08" x2="246.95" y2="487.08" stroke="#231f20" stroke-width="0.7"/>
<rect x="239.3" y="489.24" width="11.5" height="56.46" fill="#ee2a2c" stroke="#a8141a" stroke-width="0.6"/>
<line x1="175" y1="466.7" x2="175" y2="546.05" stroke="#3a3a3e" stroke-width="0.7"/>
<line x1="173" y1="545.7" x2="175" y2="545.7" stroke="#3a3a3e" stroke-width="0.59"/>
<text x="170.9" y="548.15" font-size="6.8" text-anchor="end" stroke="#231f20" stroke-width="0.18">0</text>
<line x1="173" y1="532.6" x2="175" y2="532.6" stroke="#3a3a3e" stroke-width="0.59"/>
<text x="170.9" y="535.05" font-size="6.8" text-anchor="end" stroke="#231f20" stroke-width="0.18">20</text>
<line x1="173" y1="519.5" x2="175" y2="519.5" stroke="#3a3a3e" stroke-width="0.59"/>
<text x="170.9" y="521.95" font-size="6.8" text-anchor="end" stroke="#231f20" stroke-width="0.18">40</text>
<line x1="173" y1="506.4" x2="175" y2="506.4" stroke="#3a3a3e" stroke-width="0.59"/>
<text x="170.9" y="508.85" font-size="6.8" text-anchor="end" stroke="#231f20" stroke-width="0.18">60</text>
<line x1="173" y1="493.3" x2="175" y2="493.3" stroke="#3a3a3e" stroke-width="0.59"/>
<text x="170.9" y="495.75" font-size="6.8" text-anchor="end" stroke="#231f20" stroke-width="0.18">80</text>
<line x1="173" y1="480.2" x2="175" y2="480.2" stroke="#3a3a3e" stroke-width="0.59"/>
<text x="170.9" y="482.65" font-size="6.8" text-anchor="end" stroke="#231f20" stroke-width="0.18">100</text>
<line x1="173" y1="467.1" x2="175" y2="467.1" stroke="#3a3a3e" stroke-width="0.59"/>
<text x="170.9" y="469.55" font-size="6.8" text-anchor="end" stroke="#231f20" stroke-width="0.18">120</text>
<line x1="174.6" y1="545.7" x2="261.8" y2="545.7" stroke="#231f20" stroke-width="1.1"/>
<path d="M189.2 473.4 V469.5 H203.2 V473.4" fill="none" stroke="#4a4a50" stroke-width="0.6"/>
<text x="196.2" y="470.3" font-size="5.8" text-anchor="middle" fill="#7d8498" stroke="#7d8498" stroke-width="0.12">***</text>
<path d="M202.4 465 V461.3 H243.6 V465" fill="none" stroke="#4a4a50" stroke-width="0.6"/>
<text x="223.4" y="461.4" font-size="5.8" text-anchor="middle" fill="#7d8498" stroke="#7d8498" stroke-width="0.12">***</text>
<text x="145.6" y="505.8" font-size="7.55" text-anchor="middle" transform="rotate(-90 145.6 505.8)" stroke="#231f20" stroke-width="0.18">Growth rate (day7/day3:</text>
<text x="153.2" y="505.4" font-size="7.55" text-anchor="middle" transform="rotate(-90 153.2 505.4)" stroke="#231f20" stroke-width="0.18">% of control shRNA)</text>
<text x="178.2" y="557.8" font-size="6.55" text-anchor="end" stroke="#231f20" stroke-width="0.18">TYK2 WT cDNA</text>
<text x="189.2" y="557.7" font-size="6.4" text-anchor="middle" stroke="#231f20" stroke-width="0.18">−</text>
<text x="202.3" y="557.7" font-size="6.4" text-anchor="middle" stroke="#231f20" stroke-width="0.18">−</text>
<text x="232.3" y="557.7" font-size="6.4" text-anchor="middle" stroke="#231f20" stroke-width="0.18">+</text>
<text x="245.3" y="557.7" font-size="6.4" text-anchor="middle" stroke="#231f20" stroke-width="0.18">+</text>
<text x="178.2" y="566.9" font-size="6.55" text-anchor="end" stroke="#231f20" stroke-width="0.18">Control shRNA</text>
<text x="189.2" y="566.8" font-size="6.4" text-anchor="middle" stroke="#231f20" stroke-width="0.18">+</text>
<text x="202.3" y="566.8" font-size="6.4" text-anchor="middle" stroke="#231f20" stroke-width="0.18">−</text>
<text x="232.3" y="566.8" font-size="6.4" text-anchor="middle" stroke="#231f20" stroke-width="0.18">+</text>
<text x="245.3" y="566.8" font-size="6.4" text-anchor="middle" stroke="#231f20" stroke-width="0.18">−</text>
<text x="178.2" y="575.8" font-size="6.55" text-anchor="end" stroke="#231f20" stroke-width="0.18">TYK2 #2 shRNA</text>
<text x="189.2" y="575.7" font-size="6.4" text-anchor="middle" stroke="#231f20" stroke-width="0.18">−</text>
<text x="202.3" y="575.7" font-size="6.4" text-anchor="middle" stroke="#231f20" stroke-width="0.18">+</text>
<text x="232.3" y="575.7" font-size="6.4" text-anchor="middle" stroke="#231f20" stroke-width="0.18">−</text>
<text x="245.3" y="575.7" font-size="6.4" text-anchor="middle" stroke="#231f20" stroke-width="0.18">+</text>
</svg>
</body>
</html>
